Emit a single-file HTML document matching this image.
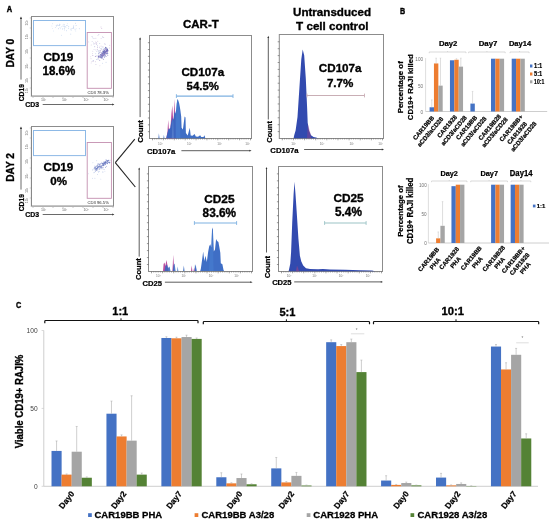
<!DOCTYPE html>
<html><head><meta charset="utf-8"><title>Figure</title>
<style>
html,body{margin:0;padding:0;background:#fff;}
body{width:550px;height:521px;overflow:hidden;}
svg{display:block;font-family:"Liberation Sans", sans-serif;filter:blur(0.3px);}
</style></head>
<body>
<svg width="550" height="521" viewBox="0 0 550 521">
<rect x="0" y="0" width="550" height="521" fill="#fff"/>
<text x="9.5" y="11.6" font-size="8.3" font-weight="bold" fill="#000" stroke="#000" stroke-width="0.45" text-anchor="middle" textLength="5.4" lengthAdjust="spacingAndGlyphs">A</text>
<rect x="31.50" y="16.50" width="82.00" height="79.50" fill="none" stroke="#8C8C8C" stroke-width="1.0"/>
<line x1="31.60" y1="18.00" x2="29.80" y2="18.00" stroke="#777" stroke-width="0.5"/>
<line x1="31.60" y1="20.00" x2="30.60" y2="20.00" stroke="#777" stroke-width="0.5"/>
<line x1="31.60" y1="22.00" x2="30.60" y2="22.00" stroke="#777" stroke-width="0.5"/>
<line x1="31.60" y1="24.00" x2="30.60" y2="24.00" stroke="#777" stroke-width="0.5"/>
<line x1="31.60" y1="26.00" x2="30.60" y2="26.00" stroke="#777" stroke-width="0.5"/>
<line x1="31.60" y1="28.00" x2="29.80" y2="28.00" stroke="#777" stroke-width="0.5"/>
<line x1="31.60" y1="30.00" x2="30.60" y2="30.00" stroke="#777" stroke-width="0.5"/>
<line x1="31.60" y1="32.00" x2="30.60" y2="32.00" stroke="#777" stroke-width="0.5"/>
<line x1="31.60" y1="34.00" x2="30.60" y2="34.00" stroke="#777" stroke-width="0.5"/>
<line x1="31.60" y1="36.00" x2="30.60" y2="36.00" stroke="#777" stroke-width="0.5"/>
<line x1="31.60" y1="38.00" x2="29.80" y2="38.00" stroke="#777" stroke-width="0.5"/>
<line x1="31.60" y1="40.00" x2="30.60" y2="40.00" stroke="#777" stroke-width="0.5"/>
<line x1="31.60" y1="42.00" x2="30.60" y2="42.00" stroke="#777" stroke-width="0.5"/>
<line x1="31.60" y1="44.00" x2="30.60" y2="44.00" stroke="#777" stroke-width="0.5"/>
<line x1="31.60" y1="46.00" x2="30.60" y2="46.00" stroke="#777" stroke-width="0.5"/>
<line x1="31.60" y1="48.00" x2="29.80" y2="48.00" stroke="#777" stroke-width="0.5"/>
<line x1="31.60" y1="50.00" x2="30.60" y2="50.00" stroke="#777" stroke-width="0.5"/>
<line x1="31.60" y1="52.00" x2="30.60" y2="52.00" stroke="#777" stroke-width="0.5"/>
<line x1="31.60" y1="54.00" x2="30.60" y2="54.00" stroke="#777" stroke-width="0.5"/>
<line x1="31.60" y1="56.00" x2="30.60" y2="56.00" stroke="#777" stroke-width="0.5"/>
<line x1="31.60" y1="58.00" x2="29.80" y2="58.00" stroke="#777" stroke-width="0.5"/>
<line x1="31.60" y1="60.00" x2="30.60" y2="60.00" stroke="#777" stroke-width="0.5"/>
<line x1="31.60" y1="62.00" x2="30.60" y2="62.00" stroke="#777" stroke-width="0.5"/>
<line x1="31.60" y1="64.00" x2="30.60" y2="64.00" stroke="#777" stroke-width="0.5"/>
<line x1="31.60" y1="66.00" x2="30.60" y2="66.00" stroke="#777" stroke-width="0.5"/>
<line x1="31.60" y1="68.00" x2="29.80" y2="68.00" stroke="#777" stroke-width="0.5"/>
<line x1="31.60" y1="70.00" x2="30.60" y2="70.00" stroke="#777" stroke-width="0.5"/>
<line x1="31.60" y1="72.00" x2="30.60" y2="72.00" stroke="#777" stroke-width="0.5"/>
<line x1="31.60" y1="74.00" x2="30.60" y2="74.00" stroke="#777" stroke-width="0.5"/>
<line x1="31.60" y1="76.00" x2="30.60" y2="76.00" stroke="#777" stroke-width="0.5"/>
<line x1="31.60" y1="78.00" x2="29.80" y2="78.00" stroke="#777" stroke-width="0.5"/>
<line x1="31.60" y1="80.00" x2="30.60" y2="80.00" stroke="#777" stroke-width="0.5"/>
<line x1="31.60" y1="82.00" x2="30.60" y2="82.00" stroke="#777" stroke-width="0.5"/>
<line x1="31.60" y1="84.00" x2="30.60" y2="84.00" stroke="#777" stroke-width="0.5"/>
<line x1="31.60" y1="86.00" x2="30.60" y2="86.00" stroke="#777" stroke-width="0.5"/>
<line x1="31.60" y1="88.00" x2="29.80" y2="88.00" stroke="#777" stroke-width="0.5"/>
<line x1="31.60" y1="90.00" x2="30.60" y2="90.00" stroke="#777" stroke-width="0.5"/>
<line x1="31.60" y1="92.00" x2="30.60" y2="92.00" stroke="#777" stroke-width="0.5"/>
<line x1="31.60" y1="94.00" x2="30.60" y2="94.00" stroke="#777" stroke-width="0.5"/>
<line x1="31.60" y1="96.00" x2="30.60" y2="96.00" stroke="#777" stroke-width="0.5"/>
<line x1="33.00" y1="96.00" x2="33.00" y2="97.80" stroke="#777" stroke-width="0.5"/>
<line x1="35.00" y1="96.00" x2="35.00" y2="97.00" stroke="#777" stroke-width="0.5"/>
<line x1="37.00" y1="96.00" x2="37.00" y2="97.00" stroke="#777" stroke-width="0.5"/>
<line x1="39.00" y1="96.00" x2="39.00" y2="97.00" stroke="#777" stroke-width="0.5"/>
<line x1="41.00" y1="96.00" x2="41.00" y2="97.00" stroke="#777" stroke-width="0.5"/>
<line x1="43.00" y1="96.00" x2="43.00" y2="97.80" stroke="#777" stroke-width="0.5"/>
<line x1="45.00" y1="96.00" x2="45.00" y2="97.00" stroke="#777" stroke-width="0.5"/>
<line x1="47.00" y1="96.00" x2="47.00" y2="97.00" stroke="#777" stroke-width="0.5"/>
<line x1="49.00" y1="96.00" x2="49.00" y2="97.00" stroke="#777" stroke-width="0.5"/>
<line x1="51.00" y1="96.00" x2="51.00" y2="97.00" stroke="#777" stroke-width="0.5"/>
<line x1="53.00" y1="96.00" x2="53.00" y2="97.80" stroke="#777" stroke-width="0.5"/>
<line x1="55.00" y1="96.00" x2="55.00" y2="97.00" stroke="#777" stroke-width="0.5"/>
<line x1="57.00" y1="96.00" x2="57.00" y2="97.00" stroke="#777" stroke-width="0.5"/>
<line x1="59.00" y1="96.00" x2="59.00" y2="97.00" stroke="#777" stroke-width="0.5"/>
<line x1="61.00" y1="96.00" x2="61.00" y2="97.00" stroke="#777" stroke-width="0.5"/>
<line x1="63.00" y1="96.00" x2="63.00" y2="97.80" stroke="#777" stroke-width="0.5"/>
<line x1="65.00" y1="96.00" x2="65.00" y2="97.00" stroke="#777" stroke-width="0.5"/>
<line x1="67.00" y1="96.00" x2="67.00" y2="97.00" stroke="#777" stroke-width="0.5"/>
<line x1="69.00" y1="96.00" x2="69.00" y2="97.00" stroke="#777" stroke-width="0.5"/>
<line x1="71.00" y1="96.00" x2="71.00" y2="97.00" stroke="#777" stroke-width="0.5"/>
<line x1="73.00" y1="96.00" x2="73.00" y2="97.80" stroke="#777" stroke-width="0.5"/>
<line x1="75.00" y1="96.00" x2="75.00" y2="97.00" stroke="#777" stroke-width="0.5"/>
<line x1="77.00" y1="96.00" x2="77.00" y2="97.00" stroke="#777" stroke-width="0.5"/>
<line x1="79.00" y1="96.00" x2="79.00" y2="97.00" stroke="#777" stroke-width="0.5"/>
<line x1="81.00" y1="96.00" x2="81.00" y2="97.00" stroke="#777" stroke-width="0.5"/>
<line x1="83.00" y1="96.00" x2="83.00" y2="97.80" stroke="#777" stroke-width="0.5"/>
<line x1="85.00" y1="96.00" x2="85.00" y2="97.00" stroke="#777" stroke-width="0.5"/>
<line x1="87.00" y1="96.00" x2="87.00" y2="97.00" stroke="#777" stroke-width="0.5"/>
<line x1="89.00" y1="96.00" x2="89.00" y2="97.00" stroke="#777" stroke-width="0.5"/>
<line x1="91.00" y1="96.00" x2="91.00" y2="97.00" stroke="#777" stroke-width="0.5"/>
<line x1="93.00" y1="96.00" x2="93.00" y2="97.80" stroke="#777" stroke-width="0.5"/>
<line x1="95.00" y1="96.00" x2="95.00" y2="97.00" stroke="#777" stroke-width="0.5"/>
<line x1="97.00" y1="96.00" x2="97.00" y2="97.00" stroke="#777" stroke-width="0.5"/>
<line x1="99.00" y1="96.00" x2="99.00" y2="97.00" stroke="#777" stroke-width="0.5"/>
<line x1="101.00" y1="96.00" x2="101.00" y2="97.00" stroke="#777" stroke-width="0.5"/>
<line x1="103.00" y1="96.00" x2="103.00" y2="97.80" stroke="#777" stroke-width="0.5"/>
<line x1="105.00" y1="96.00" x2="105.00" y2="97.00" stroke="#777" stroke-width="0.5"/>
<line x1="107.00" y1="96.00" x2="107.00" y2="97.00" stroke="#777" stroke-width="0.5"/>
<line x1="109.00" y1="96.00" x2="109.00" y2="97.00" stroke="#777" stroke-width="0.5"/>
<line x1="111.00" y1="96.00" x2="111.00" y2="97.00" stroke="#777" stroke-width="0.5"/>
<line x1="113.00" y1="96.00" x2="113.00" y2="97.80" stroke="#777" stroke-width="0.5"/>
<text x="43.5" y="100.8" font-size="3.6" fill="#666" text-anchor="middle">10&#178;</text>
<text x="64.6" y="100.8" font-size="3.6" fill="#666" text-anchor="middle">10&#178;</text>
<text x="86.0" y="100.8" font-size="3.6" fill="#666" text-anchor="middle">10&#178;</text>
<text x="106.0" y="100.8" font-size="3.6" fill="#666" text-anchor="middle">10&#178;</text>
<text transform="translate(27.8,23.0) rotate(-90)" font-size="3.6" fill="#666" text-anchor="middle">10&#178;</text>
<text transform="translate(27.8,36.6) rotate(-90)" font-size="3.6" fill="#666" text-anchor="middle">10&#178;</text>
<text transform="translate(27.8,51.5) rotate(-90)" font-size="3.6" fill="#666" text-anchor="middle">10&#178;</text>
<text transform="translate(27.8,66.2) rotate(-90)" font-size="3.6" fill="#666" text-anchor="middle">10&#178;</text>
<text transform="translate(27.8,80.5) rotate(-90)" font-size="3.6" fill="#666" text-anchor="middle">10&#178;</text>
<text transform="translate(27.8,90.6) rotate(-90)" font-size="3.6" fill="#666" text-anchor="middle">10&#178;</text>
<rect x="33.50" y="20.50" width="52.00" height="25.10" fill="none" stroke="#8DB9E6" stroke-width="1.0"/>
<rect x="87.20" y="32.50" width="24.20" height="55.80" fill="none" stroke="#C48FB0" stroke-width="0.9"/>
<text x="87.4" y="93.8" font-size="4.3" fill="#222" textLength="21.5" lengthAdjust="spacingAndGlyphs">CD3 78.3%</text>
<circle cx="64.21" cy="28.53" r="0.45" fill="#A9C3E8" fill-opacity="0.9"/>
<circle cx="73.79" cy="28.63" r="0.45" fill="#9DB8E2" fill-opacity="0.9"/>
<circle cx="52.68" cy="23.73" r="0.45" fill="#B8CDEB" fill-opacity="0.9"/>
<circle cx="73.26" cy="27.75" r="0.45" fill="#A9C3E8" fill-opacity="0.9"/>
<circle cx="66.52" cy="30.79" r="0.45" fill="#A9C3E8" fill-opacity="0.9"/>
<circle cx="67.67" cy="25.63" r="0.45" fill="#B8CDEB" fill-opacity="0.9"/>
<circle cx="59.69" cy="24.10" r="0.45" fill="#A9C3E8" fill-opacity="0.9"/>
<circle cx="59.77" cy="25.60" r="0.45" fill="#B8CDEB" fill-opacity="0.9"/>
<circle cx="79.25" cy="28.71" r="0.45" fill="#9DB8E2" fill-opacity="0.9"/>
<circle cx="58.37" cy="28.82" r="0.45" fill="#9DB8E2" fill-opacity="0.9"/>
<circle cx="56.15" cy="25.32" r="0.45" fill="#A9C3E8" fill-opacity="0.9"/>
<circle cx="57.29" cy="24.90" r="0.45" fill="#9DB8E2" fill-opacity="0.9"/>
<circle cx="75.04" cy="29.72" r="0.45" fill="#A9C3E8" fill-opacity="0.9"/>
<circle cx="59.99" cy="24.61" r="0.45" fill="#C4D6EF" fill-opacity="0.9"/>
<circle cx="67.33" cy="23.69" r="0.45" fill="#C4D6EF" fill-opacity="0.9"/>
<circle cx="62.59" cy="28.73" r="0.45" fill="#B8CDEB" fill-opacity="0.9"/>
<circle cx="64.35" cy="24.87" r="0.45" fill="#9DB8E2" fill-opacity="0.9"/>
<circle cx="51.90" cy="26.04" r="0.45" fill="#C4D6EF" fill-opacity="0.9"/>
<circle cx="61.37" cy="35.16" r="0.45" fill="#A9C3E8" fill-opacity="0.9"/>
<circle cx="61.81" cy="26.87" r="0.45" fill="#9DB8E2" fill-opacity="0.9"/>
<circle cx="70.69" cy="29.84" r="0.45" fill="#A9C3E8" fill-opacity="0.9"/>
<circle cx="68.73" cy="26.71" r="0.45" fill="#9DB8E2" fill-opacity="0.9"/>
<circle cx="62.51" cy="29.35" r="0.45" fill="#C4D6EF" fill-opacity="0.9"/>
<circle cx="59.23" cy="25.41" r="0.45" fill="#A9C3E8" fill-opacity="0.9"/>
<circle cx="73.46" cy="25.84" r="0.45" fill="#A9C3E8" fill-opacity="0.9"/>
<circle cx="76.10" cy="28.74" r="0.45" fill="#C4D6EF" fill-opacity="0.9"/>
<circle cx="64.51" cy="29.89" r="0.45" fill="#9DB8E2" fill-opacity="0.9"/>
<circle cx="73.71" cy="27.47" r="0.45" fill="#B8CDEB" fill-opacity="0.9"/>
<circle cx="59.74" cy="24.75" r="0.45" fill="#B8CDEB" fill-opacity="0.9"/>
<circle cx="66.42" cy="25.43" r="0.45" fill="#B8CDEB" fill-opacity="0.9"/>
<circle cx="53.49" cy="31.00" r="0.45" fill="#C4D6EF" fill-opacity="0.9"/>
<circle cx="72.69" cy="28.59" r="0.45" fill="#9DB8E2" fill-opacity="0.9"/>
<circle cx="75.63" cy="23.29" r="0.45" fill="#9DB8E2" fill-opacity="0.9"/>
<circle cx="63.19" cy="24.32" r="0.45" fill="#B8CDEB" fill-opacity="0.9"/>
<circle cx="68.54" cy="28.52" r="0.45" fill="#B8CDEB" fill-opacity="0.9"/>
<circle cx="65.41" cy="26.61" r="0.45" fill="#B8CDEB" fill-opacity="0.9"/>
<circle cx="65.95" cy="27.27" r="0.45" fill="#C4D6EF" fill-opacity="0.9"/>
<circle cx="56.62" cy="26.11" r="0.45" fill="#9DB8E2" fill-opacity="0.9"/>
<circle cx="76.26" cy="25.67" r="0.45" fill="#A9C3E8" fill-opacity="0.9"/>
<circle cx="52.36" cy="28.63" r="0.45" fill="#C4D6EF" fill-opacity="0.9"/>
<circle cx="60.38" cy="28.79" r="0.45" fill="#C4D6EF" fill-opacity="0.9"/>
<circle cx="64.33" cy="26.20" r="0.45" fill="#A9C3E8" fill-opacity="0.9"/>
<circle cx="73.51" cy="26.69" r="0.45" fill="#A9C3E8" fill-opacity="0.9"/>
<circle cx="64.77" cy="27.83" r="0.45" fill="#A9C3E8" fill-opacity="0.9"/>
<circle cx="58.07" cy="25.48" r="0.45" fill="#9DB8E2" fill-opacity="0.9"/>
<circle cx="63.98" cy="26.25" r="0.45" fill="#B8CDEB" fill-opacity="0.9"/>
<circle cx="63.01" cy="25.88" r="0.45" fill="#9DB8E2" fill-opacity="0.9"/>
<circle cx="75.14" cy="25.87" r="0.45" fill="#C4D6EF" fill-opacity="0.9"/>
<circle cx="75.75" cy="31.07" r="0.45" fill="#C4D6EF" fill-opacity="0.9"/>
<circle cx="59.99" cy="27.32" r="0.45" fill="#B8CDEB" fill-opacity="0.9"/>
<circle cx="71.14" cy="28.65" r="0.45" fill="#9DB8E2" fill-opacity="0.9"/>
<circle cx="55.35" cy="27.62" r="0.45" fill="#A9C3E8" fill-opacity="0.9"/>
<circle cx="70.79" cy="34.10" r="0.45" fill="#9DB8E2" fill-opacity="0.9"/>
<circle cx="71.30" cy="29.99" r="0.45" fill="#A9C3E8" fill-opacity="0.9"/>
<circle cx="105.01" cy="53.63" r="0.45" fill="#4F4FA8" fill-opacity="0.9"/>
<circle cx="104.98" cy="53.46" r="0.45" fill="#6A5AB0" fill-opacity="0.9"/>
<circle cx="102.62" cy="56.62" r="0.45" fill="#7A70C0" fill-opacity="0.9"/>
<circle cx="102.54" cy="57.74" r="0.45" fill="#6A5AB0" fill-opacity="0.9"/>
<circle cx="106.84" cy="48.66" r="0.45" fill="#6A5AB0" fill-opacity="0.9"/>
<circle cx="98.99" cy="56.02" r="0.45" fill="#4F4FA8" fill-opacity="0.9"/>
<circle cx="104.98" cy="51.36" r="0.45" fill="#7A70C0" fill-opacity="0.9"/>
<circle cx="104.26" cy="51.07" r="0.45" fill="#8060B0" fill-opacity="0.9"/>
<circle cx="106.53" cy="50.71" r="0.45" fill="#6A5AB0" fill-opacity="0.9"/>
<circle cx="102.48" cy="55.30" r="0.45" fill="#7A70C0" fill-opacity="0.9"/>
<circle cx="104.35" cy="51.08" r="0.45" fill="#5A6CC0" fill-opacity="0.9"/>
<circle cx="98.66" cy="53.85" r="0.45" fill="#5A6CC0" fill-opacity="0.9"/>
<circle cx="104.69" cy="51.64" r="0.45" fill="#5A6CC0" fill-opacity="0.9"/>
<circle cx="103.25" cy="50.78" r="0.45" fill="#3E4FA8" fill-opacity="0.9"/>
<circle cx="103.18" cy="53.12" r="0.45" fill="#6A5AB0" fill-opacity="0.9"/>
<circle cx="101.38" cy="56.80" r="0.45" fill="#3E4FA8" fill-opacity="0.9"/>
<circle cx="107.43" cy="53.43" r="0.45" fill="#3E4FA8" fill-opacity="0.9"/>
<circle cx="103.79" cy="53.87" r="0.45" fill="#6A5AB0" fill-opacity="0.9"/>
<circle cx="100.31" cy="54.88" r="0.45" fill="#4F4FA8" fill-opacity="0.9"/>
<circle cx="104.98" cy="52.60" r="0.45" fill="#6A5AB0" fill-opacity="0.9"/>
<circle cx="106.35" cy="52.07" r="0.45" fill="#8060B0" fill-opacity="0.9"/>
<circle cx="103.61" cy="52.07" r="0.45" fill="#7A70C0" fill-opacity="0.9"/>
<circle cx="104.79" cy="56.72" r="0.45" fill="#8060B0" fill-opacity="0.9"/>
<circle cx="105.43" cy="47.81" r="0.45" fill="#7A70C0" fill-opacity="0.9"/>
<circle cx="104.20" cy="53.20" r="0.45" fill="#7A70C0" fill-opacity="0.9"/>
<circle cx="98.08" cy="56.07" r="0.45" fill="#6A5AB0" fill-opacity="0.9"/>
<circle cx="104.49" cy="51.73" r="0.45" fill="#6A5AB0" fill-opacity="0.9"/>
<circle cx="103.03" cy="51.70" r="0.45" fill="#8060B0" fill-opacity="0.9"/>
<circle cx="103.49" cy="51.69" r="0.45" fill="#4F4FA8" fill-opacity="0.9"/>
<circle cx="107.36" cy="50.80" r="0.45" fill="#4F4FA8" fill-opacity="0.9"/>
<circle cx="104.01" cy="51.22" r="0.45" fill="#4F4FA8" fill-opacity="0.9"/>
<circle cx="101.87" cy="52.72" r="0.45" fill="#7A70C0" fill-opacity="0.9"/>
<circle cx="100.83" cy="57.78" r="0.45" fill="#3E4FA8" fill-opacity="0.9"/>
<circle cx="103.59" cy="55.39" r="0.45" fill="#8060B0" fill-opacity="0.9"/>
<circle cx="107.57" cy="49.45" r="0.45" fill="#3E4FA8" fill-opacity="0.9"/>
<circle cx="101.61" cy="57.60" r="0.45" fill="#4F4FA8" fill-opacity="0.9"/>
<circle cx="104.06" cy="52.61" r="0.45" fill="#8060B0" fill-opacity="0.9"/>
<circle cx="106.37" cy="50.67" r="0.45" fill="#5A6CC0" fill-opacity="0.9"/>
<circle cx="103.99" cy="53.26" r="0.45" fill="#6A5AB0" fill-opacity="0.9"/>
<circle cx="107.85" cy="53.64" r="0.45" fill="#3E4FA8" fill-opacity="0.9"/>
<circle cx="107.58" cy="52.45" r="0.45" fill="#6A5AB0" fill-opacity="0.9"/>
<circle cx="99.37" cy="57.01" r="0.45" fill="#8060B0" fill-opacity="0.9"/>
<circle cx="102.52" cy="54.68" r="0.45" fill="#8060B0" fill-opacity="0.9"/>
<circle cx="98.33" cy="56.77" r="0.45" fill="#4F4FA8" fill-opacity="0.9"/>
<circle cx="101.49" cy="54.28" r="0.45" fill="#4F4FA8" fill-opacity="0.9"/>
<circle cx="101.22" cy="56.03" r="0.45" fill="#4F4FA8" fill-opacity="0.9"/>
<circle cx="99.78" cy="60.27" r="0.45" fill="#6A5AB0" fill-opacity="0.9"/>
<circle cx="102.60" cy="56.55" r="0.45" fill="#5A6CC0" fill-opacity="0.9"/>
<circle cx="106.01" cy="51.86" r="0.45" fill="#7A70C0" fill-opacity="0.9"/>
<circle cx="103.89" cy="52.28" r="0.45" fill="#4F4FA8" fill-opacity="0.9"/>
<circle cx="107.02" cy="54.21" r="0.45" fill="#8060B0" fill-opacity="0.9"/>
<circle cx="105.45" cy="47.84" r="0.45" fill="#4F4FA8" fill-opacity="0.9"/>
<circle cx="104.54" cy="53.87" r="0.45" fill="#4F4FA8" fill-opacity="0.9"/>
<circle cx="102.25" cy="55.59" r="0.45" fill="#8060B0" fill-opacity="0.9"/>
<circle cx="106.44" cy="53.20" r="0.45" fill="#4F4FA8" fill-opacity="0.9"/>
<circle cx="107.19" cy="50.76" r="0.45" fill="#8060B0" fill-opacity="0.9"/>
<circle cx="103.66" cy="52.26" r="0.45" fill="#3E4FA8" fill-opacity="0.9"/>
<circle cx="104.03" cy="54.83" r="0.45" fill="#4F4FA8" fill-opacity="0.9"/>
<circle cx="107.70" cy="49.62" r="0.45" fill="#7A70C0" fill-opacity="0.9"/>
<circle cx="104.46" cy="54.78" r="0.45" fill="#3E4FA8" fill-opacity="0.9"/>
<circle cx="100.93" cy="55.10" r="0.45" fill="#3E4FA8" fill-opacity="0.9"/>
<circle cx="106.51" cy="50.40" r="0.45" fill="#8060B0" fill-opacity="0.9"/>
<circle cx="106.19" cy="51.84" r="0.45" fill="#5A6CC0" fill-opacity="0.9"/>
<circle cx="107.84" cy="55.38" r="0.45" fill="#4F4FA8" fill-opacity="0.9"/>
<circle cx="108.01" cy="51.00" r="0.45" fill="#8060B0" fill-opacity="0.9"/>
<circle cx="104.75" cy="54.86" r="0.45" fill="#3E4FA8" fill-opacity="0.9"/>
<circle cx="105.96" cy="49.39" r="0.45" fill="#6A5AB0" fill-opacity="0.9"/>
<circle cx="105.84" cy="52.25" r="0.45" fill="#8060B0" fill-opacity="0.9"/>
<circle cx="102.79" cy="58.01" r="0.45" fill="#7A70C0" fill-opacity="0.9"/>
<circle cx="104.72" cy="55.62" r="0.45" fill="#6A5AB0" fill-opacity="0.9"/>
<circle cx="103.63" cy="54.66" r="0.45" fill="#3E4FA8" fill-opacity="0.9"/>
<circle cx="101.18" cy="54.26" r="0.45" fill="#4F4FA8" fill-opacity="0.9"/>
<circle cx="100.52" cy="55.96" r="0.45" fill="#7A70C0" fill-opacity="0.9"/>
<circle cx="100.93" cy="57.36" r="0.45" fill="#6A5AB0" fill-opacity="0.9"/>
<circle cx="102.63" cy="56.00" r="0.45" fill="#6A5AB0" fill-opacity="0.9"/>
<circle cx="104.19" cy="49.03" r="0.45" fill="#3E4FA8" fill-opacity="0.9"/>
<circle cx="105.34" cy="49.55" r="0.45" fill="#8060B0" fill-opacity="0.9"/>
<circle cx="105.05" cy="51.33" r="0.45" fill="#5A6CC0" fill-opacity="0.9"/>
<circle cx="105.16" cy="48.50" r="0.45" fill="#7A70C0" fill-opacity="0.9"/>
<circle cx="99.09" cy="56.10" r="0.45" fill="#4F4FA8" fill-opacity="0.9"/>
<circle cx="103.74" cy="49.18" r="0.45" fill="#5A6CC0" fill-opacity="0.9"/>
<circle cx="106.81" cy="49.32" r="0.45" fill="#4F4FA8" fill-opacity="0.9"/>
<circle cx="100.17" cy="57.01" r="0.45" fill="#3E4FA8" fill-opacity="0.9"/>
<circle cx="102.70" cy="51.42" r="0.45" fill="#5A6CC0" fill-opacity="0.9"/>
<circle cx="101.33" cy="57.30" r="0.45" fill="#4F4FA8" fill-opacity="0.9"/>
<circle cx="103.88" cy="51.48" r="0.45" fill="#5A6CC0" fill-opacity="0.9"/>
<circle cx="103.67" cy="51.48" r="0.45" fill="#4F4FA8" fill-opacity="0.9"/>
<circle cx="106.48" cy="53.41" r="0.45" fill="#6A5AB0" fill-opacity="0.9"/>
<circle cx="106.92" cy="51.30" r="0.45" fill="#3E4FA8" fill-opacity="0.9"/>
<circle cx="101.02" cy="56.18" r="0.45" fill="#4F4FA8" fill-opacity="0.9"/>
<circle cx="104.11" cy="52.06" r="0.45" fill="#6A5AB0" fill-opacity="0.9"/>
<circle cx="101.00" cy="52.84" r="0.45" fill="#7A70C0" fill-opacity="0.9"/>
<circle cx="104.50" cy="53.00" r="0.45" fill="#8060B0" fill-opacity="0.9"/>
<circle cx="108.02" cy="50.38" r="0.45" fill="#3E4FA8" fill-opacity="0.9"/>
<circle cx="100.38" cy="54.99" r="0.45" fill="#3E4FA8" fill-opacity="0.9"/>
<circle cx="107.28" cy="51.28" r="0.45" fill="#8060B0" fill-opacity="0.9"/>
<circle cx="107.55" cy="49.56" r="0.45" fill="#3E4FA8" fill-opacity="0.9"/>
<circle cx="95.91" cy="56.67" r="0.45" fill="#8060B0" fill-opacity="0.9"/>
<circle cx="105.19" cy="52.56" r="0.45" fill="#4F4FA8" fill-opacity="0.9"/>
<circle cx="105.15" cy="54.36" r="0.45" fill="#8060B0" fill-opacity="0.9"/>
<circle cx="101.22" cy="54.71" r="0.45" fill="#4F4FA8" fill-opacity="0.9"/>
<circle cx="105.45" cy="55.27" r="0.45" fill="#3E4FA8" fill-opacity="0.9"/>
<circle cx="104.37" cy="57.64" r="0.45" fill="#5A6CC0" fill-opacity="0.9"/>
<circle cx="102.88" cy="54.73" r="0.45" fill="#8060B0" fill-opacity="0.9"/>
<circle cx="103.35" cy="55.48" r="0.45" fill="#8060B0" fill-opacity="0.9"/>
<circle cx="105.86" cy="50.81" r="0.45" fill="#6A5AB0" fill-opacity="0.9"/>
<circle cx="106.08" cy="51.03" r="0.45" fill="#8060B0" fill-opacity="0.9"/>
<circle cx="97.99" cy="59.04" r="0.45" fill="#4F4FA8" fill-opacity="0.9"/>
<circle cx="101.45" cy="55.18" r="0.45" fill="#4F4FA8" fill-opacity="0.9"/>
<circle cx="103.56" cy="56.01" r="0.45" fill="#5A6CC0" fill-opacity="0.9"/>
<circle cx="106.99" cy="51.27" r="0.45" fill="#7A70C0" fill-opacity="0.9"/>
<circle cx="102.36" cy="52.20" r="0.45" fill="#3E4FA8" fill-opacity="0.9"/>
<circle cx="107.27" cy="48.34" r="0.45" fill="#7A70C0" fill-opacity="0.9"/>
<circle cx="103.82" cy="52.61" r="0.45" fill="#5A6CC0" fill-opacity="0.9"/>
<circle cx="102.25" cy="53.64" r="0.45" fill="#8060B0" fill-opacity="0.9"/>
<circle cx="104.78" cy="52.55" r="0.45" fill="#6A5AB0" fill-opacity="0.9"/>
<circle cx="102.67" cy="54.84" r="0.45" fill="#5A6CC0" fill-opacity="0.9"/>
<circle cx="104.65" cy="50.25" r="0.45" fill="#6A5AB0" fill-opacity="0.9"/>
<circle cx="100.69" cy="54.53" r="0.45" fill="#6A5AB0" fill-opacity="0.9"/>
<circle cx="106.01" cy="53.21" r="0.45" fill="#3E4FA8" fill-opacity="0.9"/>
<circle cx="102.78" cy="53.52" r="0.45" fill="#3E4FA8" fill-opacity="0.9"/>
<circle cx="101.99" cy="53.73" r="0.45" fill="#6A5AB0" fill-opacity="0.9"/>
<circle cx="103.04" cy="55.41" r="0.45" fill="#8060B0" fill-opacity="0.9"/>
<circle cx="106.05" cy="51.33" r="0.45" fill="#3E4FA8" fill-opacity="0.9"/>
<circle cx="102.54" cy="53.34" r="0.45" fill="#8060B0" fill-opacity="0.9"/>
<circle cx="103.18" cy="55.28" r="0.45" fill="#8060B0" fill-opacity="0.9"/>
<circle cx="98.68" cy="56.44" r="0.45" fill="#6A5AB0" fill-opacity="0.9"/>
<circle cx="101.26" cy="55.81" r="0.45" fill="#5A6CC0" fill-opacity="0.9"/>
<circle cx="105.49" cy="53.05" r="0.45" fill="#4F4FA8" fill-opacity="0.9"/>
<circle cx="98.55" cy="57.71" r="0.45" fill="#3E4FA8" fill-opacity="0.9"/>
<circle cx="106.74" cy="49.79" r="0.45" fill="#7A70C0" fill-opacity="0.9"/>
<circle cx="107.31" cy="50.45" r="0.45" fill="#4F4FA8" fill-opacity="0.9"/>
<circle cx="103.30" cy="59.20" r="0.45" fill="#4F4FA8" fill-opacity="0.9"/>
<circle cx="106.70" cy="47.69" r="0.45" fill="#3E4FA8" fill-opacity="0.9"/>
<circle cx="100.19" cy="56.74" r="0.45" fill="#6A5AB0" fill-opacity="0.9"/>
<circle cx="103.00" cy="54.53" r="0.45" fill="#8060B0" fill-opacity="0.9"/>
<circle cx="106.08" cy="48.40" r="0.45" fill="#3E4FA8" fill-opacity="0.9"/>
<circle cx="105.47" cy="52.31" r="0.45" fill="#7A70C0" fill-opacity="0.9"/>
<circle cx="107.41" cy="51.11" r="0.45" fill="#7A70C0" fill-opacity="0.9"/>
<circle cx="95.27" cy="56.24" r="0.45" fill="#8060B0" fill-opacity="0.9"/>
<circle cx="105.51" cy="47.21" r="0.45" fill="#3E4FA8" fill-opacity="0.9"/>
<circle cx="103.41" cy="53.18" r="0.45" fill="#3E4FA8" fill-opacity="0.9"/>
<circle cx="105.04" cy="52.18" r="0.45" fill="#3E4FA8" fill-opacity="0.9"/>
<circle cx="106.26" cy="49.90" r="0.45" fill="#6A5AB0" fill-opacity="0.9"/>
<circle cx="105.67" cy="51.64" r="0.45" fill="#4F4FA8" fill-opacity="0.9"/>
<circle cx="104.82" cy="50.45" r="0.45" fill="#3E4FA8" fill-opacity="0.9"/>
<circle cx="101.71" cy="53.41" r="0.45" fill="#7A70C0" fill-opacity="0.9"/>
<circle cx="99.17" cy="56.99" r="0.45" fill="#6A5AB0" fill-opacity="0.9"/>
<circle cx="101.74" cy="58.32" r="0.45" fill="#8060B0" fill-opacity="0.9"/>
<circle cx="99.10" cy="55.09" r="0.45" fill="#6A5AB0" fill-opacity="0.9"/>
<circle cx="105.30" cy="53.73" r="0.45" fill="#C0A8CC" fill-opacity="0.85"/>
<circle cx="100.03" cy="50.59" r="0.45" fill="#A0B8E0" fill-opacity="0.85"/>
<circle cx="100.02" cy="52.03" r="0.45" fill="#A8A0D0" fill-opacity="0.85"/>
<circle cx="101.20" cy="58.00" r="0.45" fill="#9AB0DC" fill-opacity="0.85"/>
<circle cx="103.06" cy="47.02" r="0.45" fill="#B8A8D8" fill-opacity="0.85"/>
<circle cx="95.49" cy="42.02" r="0.45" fill="#C0A8CC" fill-opacity="0.85"/>
<circle cx="106.24" cy="52.35" r="0.45" fill="#C0A8CC" fill-opacity="0.85"/>
<circle cx="96.75" cy="51.36" r="0.45" fill="#A8A0D0" fill-opacity="0.85"/>
<circle cx="98.13" cy="57.31" r="0.45" fill="#A8A0D0" fill-opacity="0.85"/>
<circle cx="91.18" cy="44.94" r="0.45" fill="#C0A8CC" fill-opacity="0.85"/>
<circle cx="93.24" cy="61.64" r="0.45" fill="#C0A8CC" fill-opacity="0.85"/>
<circle cx="105.66" cy="56.55" r="0.45" fill="#B8A8D8" fill-opacity="0.85"/>
<circle cx="91.18" cy="62.88" r="0.45" fill="#B8A8D8" fill-opacity="0.85"/>
<circle cx="95.37" cy="61.72" r="0.45" fill="#C0A8CC" fill-opacity="0.85"/>
<circle cx="104.05" cy="51.56" r="0.45" fill="#C0A8CC" fill-opacity="0.85"/>
<circle cx="100.29" cy="50.54" r="0.45" fill="#A8A0D0" fill-opacity="0.85"/>
<circle cx="99.59" cy="47.30" r="0.45" fill="#B8A8D8" fill-opacity="0.85"/>
<circle cx="96.88" cy="55.41" r="0.45" fill="#A0B8E0" fill-opacity="0.85"/>
<circle cx="106.97" cy="53.58" r="0.45" fill="#9AB0DC" fill-opacity="0.85"/>
<circle cx="102.73" cy="46.92" r="0.45" fill="#A0B8E0" fill-opacity="0.85"/>
<circle cx="105.13" cy="44.32" r="0.45" fill="#A8A0D0" fill-opacity="0.85"/>
<circle cx="102.61" cy="50.89" r="0.45" fill="#C0A8CC" fill-opacity="0.85"/>
<circle cx="97.80" cy="41.25" r="0.45" fill="#C0A8CC" fill-opacity="0.85"/>
<circle cx="100.06" cy="46.08" r="0.45" fill="#C0A8CC" fill-opacity="0.85"/>
<circle cx="102.68" cy="63.15" r="0.45" fill="#9AB0DC" fill-opacity="0.85"/>
<circle cx="102.80" cy="37.64" r="0.45" fill="#A0B8E0" fill-opacity="0.85"/>
<circle cx="99.86" cy="65.84" r="0.45" fill="#C0A8CC" fill-opacity="0.85"/>
<circle cx="93.36" cy="60.66" r="0.45" fill="#A8A0D0" fill-opacity="0.85"/>
<circle cx="94.03" cy="49.40" r="0.45" fill="#B8A8D8" fill-opacity="0.85"/>
<circle cx="99.03" cy="52.93" r="0.45" fill="#A8A0D0" fill-opacity="0.85"/>
<circle cx="92.77" cy="51.15" r="0.45" fill="#B8A8D8" fill-opacity="0.85"/>
<circle cx="109.29" cy="47.95" r="0.45" fill="#A8A0D0" fill-opacity="0.85"/>
<circle cx="98.80" cy="53.34" r="0.45" fill="#A8A0D0" fill-opacity="0.85"/>
<circle cx="102.04" cy="49.14" r="0.45" fill="#B8A8D8" fill-opacity="0.85"/>
<circle cx="92.97" cy="55.56" r="0.45" fill="#B8A8D8" fill-opacity="0.85"/>
<circle cx="98.88" cy="34.50" r="0.45" fill="#A8A0D0" fill-opacity="0.85"/>
<circle cx="99.78" cy="43.44" r="0.45" fill="#9AB0DC" fill-opacity="0.85"/>
<circle cx="94.59" cy="46.85" r="0.45" fill="#9AB0DC" fill-opacity="0.85"/>
<circle cx="100.18" cy="55.73" r="0.45" fill="#B8A8D8" fill-opacity="0.85"/>
<circle cx="99.37" cy="56.48" r="0.45" fill="#A0B8E0" fill-opacity="0.85"/>
<circle cx="99.69" cy="52.71" r="0.45" fill="#9AB0DC" fill-opacity="0.85"/>
<circle cx="104.94" cy="49.55" r="0.45" fill="#B8A8D8" fill-opacity="0.85"/>
<circle cx="97.64" cy="47.03" r="0.45" fill="#C0A8CC" fill-opacity="0.85"/>
<circle cx="101.32" cy="49.79" r="0.45" fill="#C0A8CC" fill-opacity="0.85"/>
<circle cx="101.69" cy="46.11" r="0.45" fill="#C0A8CC" fill-opacity="0.85"/>
<circle cx="100.23" cy="48.82" r="0.45" fill="#9AB0DC" fill-opacity="0.85"/>
<circle cx="99.17" cy="52.56" r="0.45" fill="#A0B8E0" fill-opacity="0.85"/>
<circle cx="105.52" cy="48.21" r="0.45" fill="#A8A0D0" fill-opacity="0.85"/>
<circle cx="92.03" cy="61.54" r="0.45" fill="#C0A8CC" fill-opacity="0.85"/>
<circle cx="92.11" cy="41.67" r="0.45" fill="#A8A0D0" fill-opacity="0.85"/>
<circle cx="104.30" cy="56.64" r="0.45" fill="#A0B8E0" fill-opacity="0.85"/>
<circle cx="98.19" cy="51.79" r="0.45" fill="#9AB0DC" fill-opacity="0.85"/>
<circle cx="101.13" cy="54.19" r="0.45" fill="#9AB0DC" fill-opacity="0.85"/>
<circle cx="106.88" cy="53.09" r="0.45" fill="#B8A8D8" fill-opacity="0.85"/>
<circle cx="102.66" cy="36.42" r="0.45" fill="#C0A8CC" fill-opacity="0.85"/>
<circle cx="97.61" cy="45.39" r="0.45" fill="#9AB0DC" fill-opacity="0.85"/>
<circle cx="100.12" cy="50.95" r="0.45" fill="#C0A8CC" fill-opacity="0.85"/>
<circle cx="97.27" cy="49.14" r="0.45" fill="#A8A0D0" fill-opacity="0.85"/>
<circle cx="101.10" cy="38.67" r="0.45" fill="#B8A8D8" fill-opacity="0.85"/>
<circle cx="97.60" cy="47.32" r="0.45" fill="#B8A8D8" fill-opacity="0.85"/>
<circle cx="95.82" cy="53.81" r="0.45" fill="#9AB0DC" fill-opacity="0.85"/>
<circle cx="96.43" cy="42.76" r="0.45" fill="#A8A0D0" fill-opacity="0.85"/>
<circle cx="96.53" cy="59.56" r="0.45" fill="#9AB0DC" fill-opacity="0.85"/>
<circle cx="98.18" cy="50.79" r="0.45" fill="#9AB0DC" fill-opacity="0.85"/>
<circle cx="95.94" cy="43.72" r="0.45" fill="#C0A8CC" fill-opacity="0.85"/>
<circle cx="99.16" cy="50.83" r="0.45" fill="#B8A8D8" fill-opacity="0.85"/>
<circle cx="90.78" cy="56.83" r="0.45" fill="#C0A8CC" fill-opacity="0.85"/>
<circle cx="94.79" cy="46.42" r="0.45" fill="#B8A8D8" fill-opacity="0.85"/>
<circle cx="100.12" cy="51.90" r="0.45" fill="#B8A8D8" fill-opacity="0.85"/>
<circle cx="92.04" cy="36.43" r="0.45" fill="#A8A0D0" fill-opacity="0.85"/>
<circle cx="88.73" cy="41.91" r="0.45" fill="#A0B8E0" fill-opacity="0.85"/>
<circle cx="101.18" cy="56.52" r="0.45" fill="#B8A8D8" fill-opacity="0.85"/>
<circle cx="103.50" cy="55.87" r="0.45" fill="#B8A8D8" fill-opacity="0.85"/>
<circle cx="95.96" cy="64.45" r="0.45" fill="#A8A0D0" fill-opacity="0.85"/>
<circle cx="104.67" cy="48.59" r="0.45" fill="#A8A0D0" fill-opacity="0.85"/>
<circle cx="93.45" cy="42.88" r="0.45" fill="#A8A0D0" fill-opacity="0.85"/>
<circle cx="104.74" cy="43.70" r="0.45" fill="#B8A8D8" fill-opacity="0.85"/>
<circle cx="92.73" cy="37.83" r="0.45" fill="#A0B8E0" fill-opacity="0.85"/>
<circle cx="91.01" cy="58.74" r="0.45" fill="#C0A8CC" fill-opacity="0.85"/>
<circle cx="100.43" cy="55.12" r="0.45" fill="#C0A8CC" fill-opacity="0.85"/>
<circle cx="101.70" cy="48.24" r="0.45" fill="#9AB0DC" fill-opacity="0.85"/>
<circle cx="101.70" cy="54.21" r="0.45" fill="#B8A8D8" fill-opacity="0.85"/>
<circle cx="105.21" cy="52.63" r="0.45" fill="#A8A0D0" fill-opacity="0.85"/>
<circle cx="96.82" cy="43.84" r="0.45" fill="#C0A8CC" fill-opacity="0.85"/>
<circle cx="93.88" cy="44.08" r="0.45" fill="#9AB0DC" fill-opacity="0.85"/>
<circle cx="96.46" cy="44.47" r="0.45" fill="#B8A8D8" fill-opacity="0.85"/>
<circle cx="92.45" cy="55.28" r="0.45" fill="#C0A8CC" fill-opacity="0.85"/>
<circle cx="95.86" cy="49.89" r="0.45" fill="#A8A0D0" fill-opacity="0.85"/>
<circle cx="94.75" cy="43.70" r="0.45" fill="#B8A8D8" fill-opacity="0.85"/>
<circle cx="92.44" cy="53.64" r="0.45" fill="#C0A8CC" fill-opacity="0.85"/>
<circle cx="103.72" cy="37.51" r="0.45" fill="#C0A8CC" fill-opacity="0.85"/>
<circle cx="101.05" cy="52.61" r="0.45" fill="#C0A8CC" fill-opacity="0.85"/>
<circle cx="93.03" cy="60.78" r="0.45" fill="#A0B8E0" fill-opacity="0.85"/>
<circle cx="97.56" cy="49.85" r="0.45" fill="#B8A8D8" fill-opacity="0.85"/>
<circle cx="106.07" cy="56.43" r="0.45" fill="#A0B8E0" fill-opacity="0.85"/>
<circle cx="106.32" cy="56.43" r="0.45" fill="#C0A8CC" fill-opacity="0.85"/>
<circle cx="93.98" cy="38.52" r="0.45" fill="#A8A0D0" fill-opacity="0.85"/>
<circle cx="97.97" cy="35.40" r="0.45" fill="#B8A8D8" fill-opacity="0.85"/>
<circle cx="106.05" cy="62.26" r="0.45" fill="#9AB0DC" fill-opacity="0.85"/>
<circle cx="109.72" cy="45.21" r="0.45" fill="#B8A8D8" fill-opacity="0.85"/>
<circle cx="95.88" cy="38.23" r="0.45" fill="#B8A8D8" fill-opacity="0.85"/>
<circle cx="103.26" cy="52.98" r="0.45" fill="#9AB0DC" fill-opacity="0.85"/>
<circle cx="101.00" cy="27.00" r="0.45" fill="#B090C0" fill-opacity="0.8"/>
<circle cx="101.80" cy="28.50" r="0.45" fill="#B090C0" fill-opacity="0.8"/>
<text x="58.40" y="60.90" font-size="11.59" font-weight="bold" fill="#000" stroke="#000" stroke-width="0.35" text-anchor="middle" textLength="30.01" lengthAdjust="spacingAndGlyphs">CD19</text>
<text x="58.90" y="75.30" font-size="12.15" font-weight="bold" fill="#000" stroke="#000" stroke-width="0.36" text-anchor="middle" textLength="32.85" lengthAdjust="spacingAndGlyphs">18.6%</text>
<text transform="translate(13.80,53.15) rotate(-90)" x="0" y="0" font-size="10.89" font-weight="bold" fill="#000" stroke="#000" stroke-width="0.33" text-anchor="middle" textLength="28.86" lengthAdjust="spacingAndGlyphs">DAY 0</text>
<line x1="21.00" y1="17.60" x2="21.00" y2="79.60" stroke="#444" stroke-width="0.8"/>
<path d="M19.9,19.0 L21,16.6 L22.1,19.0Z" fill="#333"/>
<text transform="translate(24.20,92.65) rotate(-90)" x="0" y="0" font-size="7.54" font-weight="bold" fill="#000" stroke="#000" stroke-width="0.23" text-anchor="middle" textLength="17.23" lengthAdjust="spacingAndGlyphs">CD19</text>
<text x="32.20" y="106.70" font-size="6.56" font-weight="bold" fill="#000" stroke="#000" stroke-width="0.20" text-anchor="middle" textLength="13.86" lengthAdjust="spacingAndGlyphs">CD3</text>
<line x1="42.70" y1="104.50" x2="112.80" y2="104.50" stroke="#444" stroke-width="0.8"/>
<path d="M112.2,103.4 L114.4,104.5 L112.2,105.6Z" fill="#333"/>
<rect x="31.50" y="126.50" width="82.00" height="79.50" fill="none" stroke="#8C8C8C" stroke-width="1.0"/>
<line x1="31.60" y1="128.00" x2="29.80" y2="128.00" stroke="#777" stroke-width="0.5"/>
<line x1="31.60" y1="130.00" x2="30.60" y2="130.00" stroke="#777" stroke-width="0.5"/>
<line x1="31.60" y1="132.00" x2="30.60" y2="132.00" stroke="#777" stroke-width="0.5"/>
<line x1="31.60" y1="134.00" x2="30.60" y2="134.00" stroke="#777" stroke-width="0.5"/>
<line x1="31.60" y1="136.00" x2="30.60" y2="136.00" stroke="#777" stroke-width="0.5"/>
<line x1="31.60" y1="138.00" x2="29.80" y2="138.00" stroke="#777" stroke-width="0.5"/>
<line x1="31.60" y1="140.00" x2="30.60" y2="140.00" stroke="#777" stroke-width="0.5"/>
<line x1="31.60" y1="142.00" x2="30.60" y2="142.00" stroke="#777" stroke-width="0.5"/>
<line x1="31.60" y1="144.00" x2="30.60" y2="144.00" stroke="#777" stroke-width="0.5"/>
<line x1="31.60" y1="146.00" x2="30.60" y2="146.00" stroke="#777" stroke-width="0.5"/>
<line x1="31.60" y1="148.00" x2="29.80" y2="148.00" stroke="#777" stroke-width="0.5"/>
<line x1="31.60" y1="150.00" x2="30.60" y2="150.00" stroke="#777" stroke-width="0.5"/>
<line x1="31.60" y1="152.00" x2="30.60" y2="152.00" stroke="#777" stroke-width="0.5"/>
<line x1="31.60" y1="154.00" x2="30.60" y2="154.00" stroke="#777" stroke-width="0.5"/>
<line x1="31.60" y1="156.00" x2="30.60" y2="156.00" stroke="#777" stroke-width="0.5"/>
<line x1="31.60" y1="158.00" x2="29.80" y2="158.00" stroke="#777" stroke-width="0.5"/>
<line x1="31.60" y1="160.00" x2="30.60" y2="160.00" stroke="#777" stroke-width="0.5"/>
<line x1="31.60" y1="162.00" x2="30.60" y2="162.00" stroke="#777" stroke-width="0.5"/>
<line x1="31.60" y1="164.00" x2="30.60" y2="164.00" stroke="#777" stroke-width="0.5"/>
<line x1="31.60" y1="166.00" x2="30.60" y2="166.00" stroke="#777" stroke-width="0.5"/>
<line x1="31.60" y1="168.00" x2="29.80" y2="168.00" stroke="#777" stroke-width="0.5"/>
<line x1="31.60" y1="170.00" x2="30.60" y2="170.00" stroke="#777" stroke-width="0.5"/>
<line x1="31.60" y1="172.00" x2="30.60" y2="172.00" stroke="#777" stroke-width="0.5"/>
<line x1="31.60" y1="174.00" x2="30.60" y2="174.00" stroke="#777" stroke-width="0.5"/>
<line x1="31.60" y1="176.00" x2="30.60" y2="176.00" stroke="#777" stroke-width="0.5"/>
<line x1="31.60" y1="178.00" x2="29.80" y2="178.00" stroke="#777" stroke-width="0.5"/>
<line x1="31.60" y1="180.00" x2="30.60" y2="180.00" stroke="#777" stroke-width="0.5"/>
<line x1="31.60" y1="182.00" x2="30.60" y2="182.00" stroke="#777" stroke-width="0.5"/>
<line x1="31.60" y1="184.00" x2="30.60" y2="184.00" stroke="#777" stroke-width="0.5"/>
<line x1="31.60" y1="186.00" x2="30.60" y2="186.00" stroke="#777" stroke-width="0.5"/>
<line x1="31.60" y1="188.00" x2="29.80" y2="188.00" stroke="#777" stroke-width="0.5"/>
<line x1="31.60" y1="190.00" x2="30.60" y2="190.00" stroke="#777" stroke-width="0.5"/>
<line x1="31.60" y1="192.00" x2="30.60" y2="192.00" stroke="#777" stroke-width="0.5"/>
<line x1="31.60" y1="194.00" x2="30.60" y2="194.00" stroke="#777" stroke-width="0.5"/>
<line x1="31.60" y1="196.00" x2="30.60" y2="196.00" stroke="#777" stroke-width="0.5"/>
<line x1="31.60" y1="198.00" x2="29.80" y2="198.00" stroke="#777" stroke-width="0.5"/>
<line x1="31.60" y1="200.00" x2="30.60" y2="200.00" stroke="#777" stroke-width="0.5"/>
<line x1="31.60" y1="202.00" x2="30.60" y2="202.00" stroke="#777" stroke-width="0.5"/>
<line x1="31.60" y1="204.00" x2="30.60" y2="204.00" stroke="#777" stroke-width="0.5"/>
<line x1="31.60" y1="206.00" x2="30.60" y2="206.00" stroke="#777" stroke-width="0.5"/>
<line x1="33.00" y1="206.00" x2="33.00" y2="207.80" stroke="#777" stroke-width="0.5"/>
<line x1="35.00" y1="206.00" x2="35.00" y2="207.00" stroke="#777" stroke-width="0.5"/>
<line x1="37.00" y1="206.00" x2="37.00" y2="207.00" stroke="#777" stroke-width="0.5"/>
<line x1="39.00" y1="206.00" x2="39.00" y2="207.00" stroke="#777" stroke-width="0.5"/>
<line x1="41.00" y1="206.00" x2="41.00" y2="207.00" stroke="#777" stroke-width="0.5"/>
<line x1="43.00" y1="206.00" x2="43.00" y2="207.80" stroke="#777" stroke-width="0.5"/>
<line x1="45.00" y1="206.00" x2="45.00" y2="207.00" stroke="#777" stroke-width="0.5"/>
<line x1="47.00" y1="206.00" x2="47.00" y2="207.00" stroke="#777" stroke-width="0.5"/>
<line x1="49.00" y1="206.00" x2="49.00" y2="207.00" stroke="#777" stroke-width="0.5"/>
<line x1="51.00" y1="206.00" x2="51.00" y2="207.00" stroke="#777" stroke-width="0.5"/>
<line x1="53.00" y1="206.00" x2="53.00" y2="207.80" stroke="#777" stroke-width="0.5"/>
<line x1="55.00" y1="206.00" x2="55.00" y2="207.00" stroke="#777" stroke-width="0.5"/>
<line x1="57.00" y1="206.00" x2="57.00" y2="207.00" stroke="#777" stroke-width="0.5"/>
<line x1="59.00" y1="206.00" x2="59.00" y2="207.00" stroke="#777" stroke-width="0.5"/>
<line x1="61.00" y1="206.00" x2="61.00" y2="207.00" stroke="#777" stroke-width="0.5"/>
<line x1="63.00" y1="206.00" x2="63.00" y2="207.80" stroke="#777" stroke-width="0.5"/>
<line x1="65.00" y1="206.00" x2="65.00" y2="207.00" stroke="#777" stroke-width="0.5"/>
<line x1="67.00" y1="206.00" x2="67.00" y2="207.00" stroke="#777" stroke-width="0.5"/>
<line x1="69.00" y1="206.00" x2="69.00" y2="207.00" stroke="#777" stroke-width="0.5"/>
<line x1="71.00" y1="206.00" x2="71.00" y2="207.00" stroke="#777" stroke-width="0.5"/>
<line x1="73.00" y1="206.00" x2="73.00" y2="207.80" stroke="#777" stroke-width="0.5"/>
<line x1="75.00" y1="206.00" x2="75.00" y2="207.00" stroke="#777" stroke-width="0.5"/>
<line x1="77.00" y1="206.00" x2="77.00" y2="207.00" stroke="#777" stroke-width="0.5"/>
<line x1="79.00" y1="206.00" x2="79.00" y2="207.00" stroke="#777" stroke-width="0.5"/>
<line x1="81.00" y1="206.00" x2="81.00" y2="207.00" stroke="#777" stroke-width="0.5"/>
<line x1="83.00" y1="206.00" x2="83.00" y2="207.80" stroke="#777" stroke-width="0.5"/>
<line x1="85.00" y1="206.00" x2="85.00" y2="207.00" stroke="#777" stroke-width="0.5"/>
<line x1="87.00" y1="206.00" x2="87.00" y2="207.00" stroke="#777" stroke-width="0.5"/>
<line x1="89.00" y1="206.00" x2="89.00" y2="207.00" stroke="#777" stroke-width="0.5"/>
<line x1="91.00" y1="206.00" x2="91.00" y2="207.00" stroke="#777" stroke-width="0.5"/>
<line x1="93.00" y1="206.00" x2="93.00" y2="207.80" stroke="#777" stroke-width="0.5"/>
<line x1="95.00" y1="206.00" x2="95.00" y2="207.00" stroke="#777" stroke-width="0.5"/>
<line x1="97.00" y1="206.00" x2="97.00" y2="207.00" stroke="#777" stroke-width="0.5"/>
<line x1="99.00" y1="206.00" x2="99.00" y2="207.00" stroke="#777" stroke-width="0.5"/>
<line x1="101.00" y1="206.00" x2="101.00" y2="207.00" stroke="#777" stroke-width="0.5"/>
<line x1="103.00" y1="206.00" x2="103.00" y2="207.80" stroke="#777" stroke-width="0.5"/>
<line x1="105.00" y1="206.00" x2="105.00" y2="207.00" stroke="#777" stroke-width="0.5"/>
<line x1="107.00" y1="206.00" x2="107.00" y2="207.00" stroke="#777" stroke-width="0.5"/>
<line x1="109.00" y1="206.00" x2="109.00" y2="207.00" stroke="#777" stroke-width="0.5"/>
<line x1="111.00" y1="206.00" x2="111.00" y2="207.00" stroke="#777" stroke-width="0.5"/>
<line x1="113.00" y1="206.00" x2="113.00" y2="207.80" stroke="#777" stroke-width="0.5"/>
<text x="43.5" y="210.8" font-size="3.6" fill="#666" text-anchor="middle">10&#178;</text>
<text x="64.6" y="210.8" font-size="3.6" fill="#666" text-anchor="middle">10&#178;</text>
<text x="86.0" y="210.8" font-size="3.6" fill="#666" text-anchor="middle">10&#178;</text>
<text x="106.0" y="210.8" font-size="3.6" fill="#666" text-anchor="middle">10&#178;</text>
<text transform="translate(27.8,133.0) rotate(-90)" font-size="3.6" fill="#666" text-anchor="middle">10&#178;</text>
<text transform="translate(27.8,146.6) rotate(-90)" font-size="3.6" fill="#666" text-anchor="middle">10&#178;</text>
<text transform="translate(27.8,161.5) rotate(-90)" font-size="3.6" fill="#666" text-anchor="middle">10&#178;</text>
<text transform="translate(27.8,176.2) rotate(-90)" font-size="3.6" fill="#666" text-anchor="middle">10&#178;</text>
<text transform="translate(27.8,190.5) rotate(-90)" font-size="3.6" fill="#666" text-anchor="middle">10&#178;</text>
<text transform="translate(27.8,200.6) rotate(-90)" font-size="3.6" fill="#666" text-anchor="middle">10&#178;</text>
<rect x="33.50" y="130.50" width="52.00" height="25.10" fill="none" stroke="#8DB9E6" stroke-width="1.0"/>
<rect x="87.20" y="142.50" width="24.20" height="55.80" fill="none" stroke="#C48FB0" stroke-width="0.9"/>
<text x="87.4" y="203.8" font-size="4.3" fill="#222" textLength="21.5" lengthAdjust="spacingAndGlyphs">CD3 96.5%</text>
<circle cx="97.99" cy="167.05" r="0.45" fill="#5C74C0" fill-opacity="0.85"/>
<circle cx="94.31" cy="167.81" r="0.45" fill="#6A78C0" fill-opacity="0.85"/>
<circle cx="102.63" cy="163.58" r="0.45" fill="#5060B8" fill-opacity="0.85"/>
<circle cx="95.81" cy="169.46" r="0.45" fill="#5060B8" fill-opacity="0.85"/>
<circle cx="105.09" cy="163.04" r="0.45" fill="#5060B8" fill-opacity="0.85"/>
<circle cx="94.94" cy="167.70" r="0.45" fill="#5060B8" fill-opacity="0.85"/>
<circle cx="107.13" cy="161.77" r="0.45" fill="#4B5FB0" fill-opacity="0.85"/>
<circle cx="96.22" cy="166.37" r="0.45" fill="#5060B8" fill-opacity="0.85"/>
<circle cx="100.28" cy="166.77" r="0.45" fill="#5060B8" fill-opacity="0.85"/>
<circle cx="100.39" cy="166.85" r="0.45" fill="#7080C8" fill-opacity="0.85"/>
<circle cx="107.53" cy="163.83" r="0.45" fill="#5060B8" fill-opacity="0.85"/>
<circle cx="101.71" cy="165.92" r="0.45" fill="#5060B8" fill-opacity="0.85"/>
<circle cx="105.25" cy="162.14" r="0.45" fill="#5060B8" fill-opacity="0.85"/>
<circle cx="102.31" cy="164.76" r="0.45" fill="#4B5FB0" fill-opacity="0.85"/>
<circle cx="97.10" cy="169.96" r="0.45" fill="#4B5FB0" fill-opacity="0.85"/>
<circle cx="94.83" cy="168.08" r="0.45" fill="#7080C8" fill-opacity="0.85"/>
<circle cx="100.26" cy="167.97" r="0.45" fill="#7080C8" fill-opacity="0.85"/>
<circle cx="95.37" cy="169.89" r="0.45" fill="#6A78C0" fill-opacity="0.85"/>
<circle cx="97.71" cy="167.52" r="0.45" fill="#6A78C0" fill-opacity="0.85"/>
<circle cx="101.93" cy="165.70" r="0.45" fill="#5060B8" fill-opacity="0.85"/>
<circle cx="100.61" cy="166.00" r="0.45" fill="#7080C8" fill-opacity="0.85"/>
<circle cx="106.19" cy="160.83" r="0.45" fill="#7080C8" fill-opacity="0.85"/>
<circle cx="108.03" cy="160.45" r="0.45" fill="#4B5FB0" fill-opacity="0.85"/>
<circle cx="94.42" cy="168.37" r="0.45" fill="#6A78C0" fill-opacity="0.85"/>
<circle cx="97.71" cy="167.38" r="0.45" fill="#7080C8" fill-opacity="0.85"/>
<circle cx="103.33" cy="164.31" r="0.45" fill="#6A78C0" fill-opacity="0.85"/>
<circle cx="101.17" cy="163.27" r="0.45" fill="#5C74C0" fill-opacity="0.85"/>
<circle cx="106.86" cy="163.57" r="0.45" fill="#5060B8" fill-opacity="0.85"/>
<circle cx="105.69" cy="163.91" r="0.45" fill="#5C74C0" fill-opacity="0.85"/>
<circle cx="107.33" cy="163.38" r="0.45" fill="#5C74C0" fill-opacity="0.85"/>
<circle cx="95.71" cy="167.64" r="0.45" fill="#4B5FB0" fill-opacity="0.85"/>
<circle cx="98.28" cy="166.34" r="0.45" fill="#5060B8" fill-opacity="0.85"/>
<circle cx="104.81" cy="165.08" r="0.45" fill="#5C74C0" fill-opacity="0.85"/>
<circle cx="107.38" cy="161.66" r="0.45" fill="#5060B8" fill-opacity="0.85"/>
<circle cx="104.81" cy="163.65" r="0.45" fill="#7080C8" fill-opacity="0.85"/>
<circle cx="95.16" cy="169.90" r="0.45" fill="#6A78C0" fill-opacity="0.85"/>
<circle cx="108.20" cy="160.20" r="0.45" fill="#5C74C0" fill-opacity="0.85"/>
<circle cx="99.78" cy="169.42" r="0.45" fill="#7080C8" fill-opacity="0.85"/>
<circle cx="102.56" cy="163.41" r="0.45" fill="#4B5FB0" fill-opacity="0.85"/>
<circle cx="100.87" cy="163.71" r="0.45" fill="#5060B8" fill-opacity="0.85"/>
<circle cx="104.81" cy="163.86" r="0.45" fill="#7080C8" fill-opacity="0.85"/>
<circle cx="107.92" cy="161.97" r="0.45" fill="#4B5FB0" fill-opacity="0.85"/>
<circle cx="105.45" cy="167.30" r="0.45" fill="#4B5FB0" fill-opacity="0.85"/>
<circle cx="96.54" cy="170.29" r="0.45" fill="#4B5FB0" fill-opacity="0.85"/>
<circle cx="104.72" cy="162.91" r="0.45" fill="#7080C8" fill-opacity="0.85"/>
<circle cx="106.60" cy="166.21" r="0.45" fill="#7080C8" fill-opacity="0.85"/>
<circle cx="109.69" cy="163.00" r="0.45" fill="#5C74C0" fill-opacity="0.85"/>
<circle cx="96.66" cy="168.80" r="0.45" fill="#4B5FB0" fill-opacity="0.85"/>
<circle cx="109.99" cy="160.16" r="0.45" fill="#4B5FB0" fill-opacity="0.85"/>
<circle cx="105.88" cy="161.55" r="0.45" fill="#4B5FB0" fill-opacity="0.85"/>
<circle cx="97.31" cy="165.99" r="0.45" fill="#5060B8" fill-opacity="0.85"/>
<circle cx="99.25" cy="166.58" r="0.45" fill="#5060B8" fill-opacity="0.85"/>
<circle cx="109.96" cy="162.27" r="0.45" fill="#5060B8" fill-opacity="0.85"/>
<circle cx="104.68" cy="161.89" r="0.45" fill="#5060B8" fill-opacity="0.85"/>
<circle cx="104.87" cy="164.33" r="0.45" fill="#5C74C0" fill-opacity="0.85"/>
<circle cx="103.36" cy="165.76" r="0.45" fill="#4B5FB0" fill-opacity="0.85"/>
<circle cx="103.03" cy="167.42" r="0.45" fill="#4B5FB0" fill-opacity="0.85"/>
<circle cx="102.75" cy="165.86" r="0.45" fill="#7080C8" fill-opacity="0.85"/>
<circle cx="98.08" cy="163.53" r="0.45" fill="#4B5FB0" fill-opacity="0.85"/>
<circle cx="101.39" cy="167.44" r="0.45" fill="#6A78C0" fill-opacity="0.85"/>
<circle cx="106.02" cy="159.33" r="0.45" fill="#7080C8" fill-opacity="0.85"/>
<circle cx="99.57" cy="166.52" r="0.45" fill="#6A78C0" fill-opacity="0.85"/>
<circle cx="108.22" cy="162.33" r="0.45" fill="#4B5FB0" fill-opacity="0.85"/>
<circle cx="103.40" cy="164.98" r="0.45" fill="#4B5FB0" fill-opacity="0.85"/>
<circle cx="103.04" cy="165.09" r="0.45" fill="#5C74C0" fill-opacity="0.85"/>
<circle cx="107.45" cy="160.40" r="0.45" fill="#4B5FB0" fill-opacity="0.85"/>
<circle cx="99.79" cy="167.42" r="0.45" fill="#7080C8" fill-opacity="0.85"/>
<circle cx="100.21" cy="166.99" r="0.45" fill="#6A78C0" fill-opacity="0.85"/>
<circle cx="109.34" cy="162.79" r="0.45" fill="#7080C8" fill-opacity="0.85"/>
<circle cx="103.43" cy="164.84" r="0.45" fill="#6A78C0" fill-opacity="0.85"/>
<circle cx="105.70" cy="162.60" r="0.45" fill="#5060B8" fill-opacity="0.85"/>
<circle cx="95.46" cy="168.55" r="0.45" fill="#7080C8" fill-opacity="0.85"/>
<circle cx="97.37" cy="168.89" r="0.45" fill="#6A78C0" fill-opacity="0.85"/>
<circle cx="101.89" cy="167.27" r="0.45" fill="#7080C8" fill-opacity="0.85"/>
<circle cx="97.67" cy="168.64" r="0.45" fill="#5060B8" fill-opacity="0.85"/>
<circle cx="102.93" cy="165.01" r="0.45" fill="#6A78C0" fill-opacity="0.85"/>
<circle cx="102.37" cy="165.66" r="0.45" fill="#6A78C0" fill-opacity="0.85"/>
<circle cx="109.42" cy="162.12" r="0.45" fill="#6A78C0" fill-opacity="0.85"/>
<circle cx="105.99" cy="161.15" r="0.45" fill="#6A78C0" fill-opacity="0.85"/>
<circle cx="97.36" cy="167.53" r="0.45" fill="#5C74C0" fill-opacity="0.85"/>
<circle cx="103.84" cy="165.51" r="0.45" fill="#5C74C0" fill-opacity="0.85"/>
<circle cx="103.01" cy="163.45" r="0.45" fill="#5C74C0" fill-opacity="0.85"/>
<circle cx="95.22" cy="171.11" r="0.45" fill="#4B5FB0" fill-opacity="0.85"/>
<circle cx="106.44" cy="162.26" r="0.45" fill="#7080C8" fill-opacity="0.85"/>
<circle cx="101.83" cy="162.14" r="0.45" fill="#7080C8" fill-opacity="0.85"/>
<circle cx="106.20" cy="160.37" r="0.45" fill="#5C74C0" fill-opacity="0.85"/>
<circle cx="100.94" cy="167.71" r="0.45" fill="#5C74C0" fill-opacity="0.85"/>
<circle cx="96.86" cy="168.36" r="0.45" fill="#6A78C0" fill-opacity="0.85"/>
<circle cx="97.33" cy="167.71" r="0.45" fill="#7080C8" fill-opacity="0.85"/>
<circle cx="105.27" cy="161.90" r="0.45" fill="#6A78C0" fill-opacity="0.85"/>
<circle cx="107.44" cy="162.02" r="0.45" fill="#5C74C0" fill-opacity="0.85"/>
<circle cx="108.43" cy="162.39" r="0.45" fill="#6A78C0" fill-opacity="0.85"/>
<circle cx="97.82" cy="164.45" r="0.45" fill="#7080C8" fill-opacity="0.85"/>
<circle cx="100.63" cy="164.95" r="0.45" fill="#6A78C0" fill-opacity="0.85"/>
<circle cx="103.33" cy="163.11" r="0.45" fill="#5060B8" fill-opacity="0.85"/>
<circle cx="99.84" cy="166.64" r="0.45" fill="#6A78C0" fill-opacity="0.85"/>
<circle cx="109.45" cy="162.62" r="0.45" fill="#4B5FB0" fill-opacity="0.85"/>
<circle cx="103.92" cy="161.86" r="0.45" fill="#5060B8" fill-opacity="0.85"/>
<circle cx="98.68" cy="166.94" r="0.45" fill="#5C74C0" fill-opacity="0.85"/>
<circle cx="106.57" cy="160.16" r="0.45" fill="#7080C8" fill-opacity="0.85"/>
<circle cx="99.03" cy="169.15" r="0.45" fill="#7080C8" fill-opacity="0.85"/>
<circle cx="102.88" cy="168.07" r="0.45" fill="#4B5FB0" fill-opacity="0.85"/>
<circle cx="105.44" cy="161.35" r="0.45" fill="#7080C8" fill-opacity="0.85"/>
<circle cx="105.36" cy="162.51" r="0.45" fill="#5C74C0" fill-opacity="0.85"/>
<circle cx="101.14" cy="166.95" r="0.45" fill="#6A78C0" fill-opacity="0.85"/>
<circle cx="103.86" cy="163.23" r="0.45" fill="#6A78C0" fill-opacity="0.85"/>
<circle cx="98.09" cy="167.61" r="0.45" fill="#5C74C0" fill-opacity="0.85"/>
<circle cx="102.35" cy="163.86" r="0.45" fill="#5060B8" fill-opacity="0.85"/>
<circle cx="99.42" cy="165.12" r="0.45" fill="#5C74C0" fill-opacity="0.85"/>
<circle cx="99.85" cy="164.01" r="0.45" fill="#5060B8" fill-opacity="0.85"/>
<circle cx="96.75" cy="169.08" r="0.45" fill="#4B5FB0" fill-opacity="0.85"/>
<circle cx="108.33" cy="161.01" r="0.45" fill="#6A78C0" fill-opacity="0.85"/>
<circle cx="101.54" cy="166.28" r="0.45" fill="#4B5FB0" fill-opacity="0.85"/>
<circle cx="98.84" cy="167.83" r="0.45" fill="#7080C8" fill-opacity="0.85"/>
<circle cx="96.97" cy="168.99" r="0.45" fill="#5C74C0" fill-opacity="0.85"/>
<circle cx="101.34" cy="168.71" r="0.45" fill="#7080C8" fill-opacity="0.85"/>
<circle cx="98.62" cy="166.45" r="0.45" fill="#4B5FB0" fill-opacity="0.85"/>
<circle cx="106.02" cy="162.13" r="0.45" fill="#5060B8" fill-opacity="0.85"/>
<circle cx="97.24" cy="165.81" r="0.45" fill="#5C74C0" fill-opacity="0.85"/>
<circle cx="104.84" cy="164.10" r="0.45" fill="#5C74C0" fill-opacity="0.85"/>
<circle cx="99.17" cy="168.38" r="0.45" fill="#4B5FB0" fill-opacity="0.85"/>
<circle cx="103.33" cy="163.91" r="0.45" fill="#6A78C0" fill-opacity="0.85"/>
<circle cx="99.66" cy="164.33" r="0.45" fill="#4B5FB0" fill-opacity="0.85"/>
<circle cx="96.45" cy="169.67" r="0.45" fill="#5C74C0" fill-opacity="0.85"/>
<circle cx="104.94" cy="162.53" r="0.45" fill="#5C74C0" fill-opacity="0.85"/>
<circle cx="108.66" cy="160.21" r="0.45" fill="#5060B8" fill-opacity="0.85"/>
<circle cx="105.53" cy="164.25" r="0.45" fill="#5060B8" fill-opacity="0.85"/>
<circle cx="107.47" cy="163.43" r="0.45" fill="#6A78C0" fill-opacity="0.85"/>
<circle cx="95.14" cy="166.81" r="0.45" fill="#5060B8" fill-opacity="0.85"/>
<circle cx="95.73" cy="167.17" r="0.45" fill="#7080C8" fill-opacity="0.85"/>
<circle cx="103.59" cy="163.97" r="0.45" fill="#5060B8" fill-opacity="0.85"/>
<circle cx="98.79" cy="164.75" r="0.45" fill="#5060B8" fill-opacity="0.85"/>
<circle cx="98.89" cy="166.21" r="0.45" fill="#5060B8" fill-opacity="0.85"/>
<circle cx="106.77" cy="162.80" r="0.45" fill="#5C74C0" fill-opacity="0.85"/>
<circle cx="105.58" cy="163.73" r="0.45" fill="#5060B8" fill-opacity="0.85"/>
<circle cx="97.29" cy="167.88" r="0.45" fill="#4B5FB0" fill-opacity="0.85"/>
<circle cx="99.43" cy="165.33" r="0.45" fill="#7080C8" fill-opacity="0.85"/>
<circle cx="95.65" cy="168.75" r="0.45" fill="#6A78C0" fill-opacity="0.85"/>
<circle cx="104.49" cy="162.80" r="0.45" fill="#4B5FB0" fill-opacity="0.85"/>
<circle cx="107.44" cy="161.65" r="0.45" fill="#7080C8" fill-opacity="0.85"/>
<circle cx="96.21" cy="165.92" r="0.45" fill="#4B5FB0" fill-opacity="0.85"/>
<circle cx="97.31" cy="165.96" r="0.45" fill="#6A78C0" fill-opacity="0.85"/>
<circle cx="96.56" cy="168.54" r="0.45" fill="#4B5FB0" fill-opacity="0.85"/>
<circle cx="107.15" cy="160.57" r="0.45" fill="#6A78C0" fill-opacity="0.85"/>
<circle cx="105.15" cy="162.30" r="0.45" fill="#5060B8" fill-opacity="0.85"/>
<circle cx="97.82" cy="167.58" r="0.45" fill="#7080C8" fill-opacity="0.85"/>
<circle cx="104.35" cy="163.68" r="0.45" fill="#7080C8" fill-opacity="0.85"/>
<circle cx="103.25" cy="162.67" r="0.45" fill="#5C74C0" fill-opacity="0.85"/>
<circle cx="104.19" cy="163.65" r="0.45" fill="#4B5FB0" fill-opacity="0.85"/>
<circle cx="94.71" cy="165.93" r="0.45" fill="#A8B8E0" fill-opacity="0.8"/>
<circle cx="102.87" cy="171.68" r="0.45" fill="#A8B8E0" fill-opacity="0.8"/>
<circle cx="100.84" cy="179.10" r="0.45" fill="#A8B8E0" fill-opacity="0.8"/>
<circle cx="95.41" cy="171.37" r="0.45" fill="#A8B8E0" fill-opacity="0.8"/>
<circle cx="88.62" cy="173.85" r="0.45" fill="#A8B8E0" fill-opacity="0.8"/>
<circle cx="94.05" cy="168.22" r="0.45" fill="#A8B8E0" fill-opacity="0.8"/>
<circle cx="102.94" cy="172.44" r="0.45" fill="#A8B8E0" fill-opacity="0.8"/>
<circle cx="104.88" cy="171.17" r="0.45" fill="#A8B8E0" fill-opacity="0.8"/>
<circle cx="97.40" cy="174.49" r="0.45" fill="#A8B8E0" fill-opacity="0.8"/>
<circle cx="93.84" cy="172.69" r="0.45" fill="#A8B8E0" fill-opacity="0.8"/>
<circle cx="93.03" cy="169.70" r="0.45" fill="#A8B8E0" fill-opacity="0.8"/>
<circle cx="96.67" cy="160.69" r="0.45" fill="#A8B8E0" fill-opacity="0.8"/>
<circle cx="92.59" cy="178.19" r="0.45" fill="#A8B8E0" fill-opacity="0.8"/>
<circle cx="96.24" cy="169.37" r="0.45" fill="#A8B8E0" fill-opacity="0.8"/>
<circle cx="97.20" cy="167.84" r="0.45" fill="#A8B8E0" fill-opacity="0.8"/>
<circle cx="92.61" cy="169.93" r="0.45" fill="#A8B8E0" fill-opacity="0.8"/>
<circle cx="92.93" cy="162.81" r="0.45" fill="#A8B8E0" fill-opacity="0.8"/>
<circle cx="98.13" cy="171.15" r="0.45" fill="#A8B8E0" fill-opacity="0.8"/>
<circle cx="98.39" cy="172.35" r="0.45" fill="#A8B8E0" fill-opacity="0.8"/>
<circle cx="101.53" cy="166.90" r="0.45" fill="#A8B8E0" fill-opacity="0.8"/>
<circle cx="94.08" cy="168.64" r="0.45" fill="#A8B8E0" fill-opacity="0.8"/>
<circle cx="94.93" cy="178.25" r="0.45" fill="#A8B8E0" fill-opacity="0.8"/>
<circle cx="104.33" cy="169.51" r="0.45" fill="#A8B8E0" fill-opacity="0.8"/>
<circle cx="94.30" cy="169.24" r="0.45" fill="#A8B8E0" fill-opacity="0.8"/>
<circle cx="103.12" cy="169.45" r="0.45" fill="#A8B8E0" fill-opacity="0.8"/>
<circle cx="94.63" cy="172.57" r="0.45" fill="#A8B8E0" fill-opacity="0.8"/>
<circle cx="98.95" cy="171.48" r="0.45" fill="#A8B8E0" fill-opacity="0.8"/>
<circle cx="99.29" cy="171.15" r="0.45" fill="#A8B8E0" fill-opacity="0.8"/>
<circle cx="98.46" cy="166.61" r="0.45" fill="#A8B8E0" fill-opacity="0.8"/>
<circle cx="97.77" cy="166.60" r="0.45" fill="#A8B8E0" fill-opacity="0.8"/>
<text x="58.40" y="170.90" font-size="10.75" font-weight="bold" fill="#000" stroke="#000" stroke-width="0.32" text-anchor="middle" textLength="29.95" lengthAdjust="spacingAndGlyphs">CD19</text>
<text x="58.55" y="185.30" font-size="11.31" font-weight="bold" fill="#000" stroke="#000" stroke-width="0.34" text-anchor="middle" textLength="16.69" lengthAdjust="spacingAndGlyphs">0%</text>
<text transform="translate(13.80,167.45) rotate(-90)" x="0" y="0" font-size="10.89" font-weight="bold" fill="#000" stroke="#000" stroke-width="0.33" text-anchor="middle" textLength="28.86" lengthAdjust="spacingAndGlyphs">DAY 2</text>
<line x1="21.00" y1="127.60" x2="21.00" y2="189.60" stroke="#444" stroke-width="0.8"/>
<path d="M19.9,129.0 L21,126.6 L22.1,129.0Z" fill="#333"/>
<text transform="translate(24.20,202.65) rotate(-90)" x="0" y="0" font-size="7.54" font-weight="bold" fill="#000" stroke="#000" stroke-width="0.23" text-anchor="middle" textLength="17.23" lengthAdjust="spacingAndGlyphs">CD19</text>
<text x="32.20" y="216.70" font-size="6.56" font-weight="bold" fill="#000" stroke="#000" stroke-width="0.20" text-anchor="middle" textLength="13.86" lengthAdjust="spacingAndGlyphs">CD3</text>
<line x1="42.70" y1="214.50" x2="112.80" y2="214.50" stroke="#444" stroke-width="0.8"/>
<path d="M112.2,213.4 L114.4,214.5 L112.2,215.6Z" fill="#333"/>
<line x1="115.30" y1="162.70" x2="134.80" y2="139.20" stroke="#222" stroke-width="1.1"/>
<line x1="115.30" y1="162.70" x2="135.30" y2="187.00" stroke="#222" stroke-width="1.1"/>
<text x="200.90" y="28.10" font-size="10.75" font-weight="bold" fill="#000" stroke="#000" stroke-width="0.32" text-anchor="middle" textLength="35.75" lengthAdjust="spacingAndGlyphs">CAR-T</text>
<rect x="149.50" y="35.50" width="102.00" height="103.00" fill="none" stroke="#8C8C8C" stroke-width="1.0"/>
<line x1="149.50" y1="131.66" x2="147.90" y2="131.66" stroke="#555" stroke-width="0.6"/>
<line x1="149.50" y1="124.82" x2="147.90" y2="124.82" stroke="#555" stroke-width="0.6"/>
<line x1="149.50" y1="117.97" x2="147.90" y2="117.97" stroke="#555" stroke-width="0.6"/>
<line x1="149.50" y1="111.13" x2="147.90" y2="111.13" stroke="#555" stroke-width="0.6"/>
<line x1="149.50" y1="104.29" x2="147.90" y2="104.29" stroke="#555" stroke-width="0.6"/>
<line x1="149.50" y1="97.45" x2="147.90" y2="97.45" stroke="#555" stroke-width="0.6"/>
<line x1="149.50" y1="90.60" x2="147.90" y2="90.60" stroke="#555" stroke-width="0.6"/>
<line x1="149.50" y1="83.76" x2="147.90" y2="83.76" stroke="#555" stroke-width="0.6"/>
<line x1="149.50" y1="76.92" x2="147.90" y2="76.92" stroke="#555" stroke-width="0.6"/>
<line x1="149.50" y1="70.08" x2="147.90" y2="70.08" stroke="#555" stroke-width="0.6"/>
<line x1="149.50" y1="63.24" x2="147.90" y2="63.24" stroke="#555" stroke-width="0.6"/>
<line x1="149.50" y1="56.39" x2="147.90" y2="56.39" stroke="#555" stroke-width="0.6"/>
<line x1="149.50" y1="49.55" x2="147.90" y2="49.55" stroke="#555" stroke-width="0.6"/>
<line x1="149.50" y1="42.71" x2="147.90" y2="42.71" stroke="#555" stroke-width="0.6"/>
<line x1="152.50" y1="138.50" x2="152.50" y2="140.30" stroke="#555" stroke-width="0.55"/>
<line x1="154.68" y1="138.50" x2="154.68" y2="139.50" stroke="#555" stroke-width="0.55"/>
<line x1="156.86" y1="138.50" x2="156.86" y2="139.50" stroke="#555" stroke-width="0.55"/>
<line x1="159.03" y1="138.50" x2="159.03" y2="139.50" stroke="#555" stroke-width="0.55"/>
<line x1="161.21" y1="138.50" x2="161.21" y2="139.50" stroke="#555" stroke-width="0.55"/>
<line x1="163.39" y1="138.50" x2="163.39" y2="140.30" stroke="#555" stroke-width="0.55"/>
<line x1="165.57" y1="138.50" x2="165.57" y2="139.50" stroke="#555" stroke-width="0.55"/>
<line x1="167.74" y1="138.50" x2="167.74" y2="139.50" stroke="#555" stroke-width="0.55"/>
<line x1="169.92" y1="138.50" x2="169.92" y2="139.50" stroke="#555" stroke-width="0.55"/>
<line x1="172.10" y1="138.50" x2="172.10" y2="139.50" stroke="#555" stroke-width="0.55"/>
<line x1="174.28" y1="138.50" x2="174.28" y2="140.30" stroke="#555" stroke-width="0.55"/>
<line x1="176.46" y1="138.50" x2="176.46" y2="139.50" stroke="#555" stroke-width="0.55"/>
<line x1="178.63" y1="138.50" x2="178.63" y2="139.50" stroke="#555" stroke-width="0.55"/>
<line x1="180.81" y1="138.50" x2="180.81" y2="139.50" stroke="#555" stroke-width="0.55"/>
<line x1="182.99" y1="138.50" x2="182.99" y2="139.50" stroke="#555" stroke-width="0.55"/>
<line x1="185.17" y1="138.50" x2="185.17" y2="140.30" stroke="#555" stroke-width="0.55"/>
<line x1="187.34" y1="138.50" x2="187.34" y2="139.50" stroke="#555" stroke-width="0.55"/>
<line x1="189.52" y1="138.50" x2="189.52" y2="139.50" stroke="#555" stroke-width="0.55"/>
<line x1="191.70" y1="138.50" x2="191.70" y2="139.50" stroke="#555" stroke-width="0.55"/>
<line x1="193.88" y1="138.50" x2="193.88" y2="139.50" stroke="#555" stroke-width="0.55"/>
<line x1="196.06" y1="138.50" x2="196.06" y2="140.30" stroke="#555" stroke-width="0.55"/>
<line x1="198.23" y1="138.50" x2="198.23" y2="139.50" stroke="#555" stroke-width="0.55"/>
<line x1="200.41" y1="138.50" x2="200.41" y2="139.50" stroke="#555" stroke-width="0.55"/>
<line x1="202.59" y1="138.50" x2="202.59" y2="139.50" stroke="#555" stroke-width="0.55"/>
<line x1="204.77" y1="138.50" x2="204.77" y2="139.50" stroke="#555" stroke-width="0.55"/>
<line x1="206.94" y1="138.50" x2="206.94" y2="140.30" stroke="#555" stroke-width="0.55"/>
<line x1="209.12" y1="138.50" x2="209.12" y2="139.50" stroke="#555" stroke-width="0.55"/>
<line x1="211.30" y1="138.50" x2="211.30" y2="139.50" stroke="#555" stroke-width="0.55"/>
<line x1="213.48" y1="138.50" x2="213.48" y2="139.50" stroke="#555" stroke-width="0.55"/>
<line x1="215.66" y1="138.50" x2="215.66" y2="139.50" stroke="#555" stroke-width="0.55"/>
<line x1="217.83" y1="138.50" x2="217.83" y2="140.30" stroke="#555" stroke-width="0.55"/>
<line x1="220.01" y1="138.50" x2="220.01" y2="139.50" stroke="#555" stroke-width="0.55"/>
<line x1="222.19" y1="138.50" x2="222.19" y2="139.50" stroke="#555" stroke-width="0.55"/>
<line x1="224.37" y1="138.50" x2="224.37" y2="139.50" stroke="#555" stroke-width="0.55"/>
<line x1="226.54" y1="138.50" x2="226.54" y2="139.50" stroke="#555" stroke-width="0.55"/>
<line x1="228.72" y1="138.50" x2="228.72" y2="140.30" stroke="#555" stroke-width="0.55"/>
<line x1="230.90" y1="138.50" x2="230.90" y2="139.50" stroke="#555" stroke-width="0.55"/>
<line x1="233.08" y1="138.50" x2="233.08" y2="139.50" stroke="#555" stroke-width="0.55"/>
<line x1="235.26" y1="138.50" x2="235.26" y2="139.50" stroke="#555" stroke-width="0.55"/>
<line x1="237.43" y1="138.50" x2="237.43" y2="139.50" stroke="#555" stroke-width="0.55"/>
<line x1="239.61" y1="138.50" x2="239.61" y2="140.30" stroke="#555" stroke-width="0.55"/>
<line x1="241.79" y1="138.50" x2="241.79" y2="139.50" stroke="#555" stroke-width="0.55"/>
<line x1="243.97" y1="138.50" x2="243.97" y2="139.50" stroke="#555" stroke-width="0.55"/>
<line x1="246.14" y1="138.50" x2="246.14" y2="139.50" stroke="#555" stroke-width="0.55"/>
<line x1="248.32" y1="138.50" x2="248.32" y2="139.50" stroke="#555" stroke-width="0.55"/>
<line x1="250.50" y1="138.50" x2="250.50" y2="140.30" stroke="#555" stroke-width="0.55"/>
<path d="M166.30,138.30 L167.50,131.30 L168.20,120.10 L168.90,129.00 L170.40,128.00 L171.40,114.00 L172.30,105.40 L173.10,118.50 L173.70,119.00 L174.30,98.90 L175.00,112.00 L176.00,138.30Z" fill="#B43C96" fill-opacity="0.9"/>
<path d="M158.40,138.30 L158.90,133.20 L159.50,138.30 L163.40,138.30 L163.90,134.80 L164.40,138.30 L166.20,138.30 L167.60,132.50 L168.60,128.50 L169.30,129.50 L170.20,128.00 L171.50,121.00 L172.50,117.50 L173.40,120.50 L174.50,112.00 L175.20,113.50 L176.00,110.70 L177.30,98.90 L178.20,100.20 L179.20,103.60 L180.30,109.70 L181.20,116.60 L181.60,127.80 L182.90,129.60 L184.60,116.60 L185.50,117.50 L185.90,133.00 L187.70,135.60 L189.80,127.80 L190.70,135.60 L192.50,135.80 L194.60,133.90 L195.80,136.50 L198.00,136.80 L200.20,135.20 L201.20,137.00 L203.50,137.00 L204.50,135.30 L205.30,138.30Z" fill="#3566C2" fill-opacity="0.95"/>
<path d="M175.60,138.30 L176.60,104.00 L177.40,100.00 L178.50,103.00 L179.60,110.00 L180.40,138.30Z" fill="#4A82D4" fill-opacity="0.55"/>
<path d="M171.80,138.30 L172.60,118.00 L173.30,122.00 L173.90,138.30Z" fill="#7FA6E0" fill-opacity="0.35"/>
<line x1="176.40" y1="96.10" x2="233.00" y2="96.10" stroke="#7EB1E1" stroke-width="1.1"/>
<line x1="176.40" y1="94.20" x2="176.40" y2="98.00" stroke="#7EB1E1" stroke-width="0.9"/>
<line x1="233.00" y1="94.20" x2="233.00" y2="98.00" stroke="#7EB1E1" stroke-width="0.9"/>
<text x="202.80" y="76.00" font-size="10.61" font-weight="bold" fill="#000" stroke="#000" stroke-width="0.32" text-anchor="middle" textLength="42.74" lengthAdjust="spacingAndGlyphs">CD107a</text>
<text x="202.70" y="90.40" font-size="11.45" font-weight="bold" fill="#000" stroke="#000" stroke-width="0.34" text-anchor="middle" textLength="32.20" lengthAdjust="spacingAndGlyphs">54.5%</text>
<text x="160.4" y="145.2" font-size="3.2" fill="#777" text-anchor="middle">10&#178;</text>
<text x="189.2" y="145.2" font-size="3.2" fill="#777" text-anchor="middle">10&#178;</text>
<text x="219.6" y="145.2" font-size="3.2" fill="#777" text-anchor="middle">10&#178;</text>
<text x="247.6" y="145.2" font-size="3.2" fill="#777" text-anchor="middle">10&#178;</text>
<line x1="140.10" y1="38.40" x2="140.10" y2="117.10" stroke="#333" stroke-width="0.8"/>
<path d="M139.20,39.40 L140.10,37.20 L141.00,39.40Z" fill="#333"/>
<text transform="translate(143.40,131.40) rotate(-90)" x="0" y="0" font-size="7.54" font-weight="bold" fill="#000" stroke="#000" stroke-width="0.23" text-anchor="middle" textLength="22.73" lengthAdjust="spacingAndGlyphs">Count</text>
<text x="161.10" y="153.70" font-size="7.54" font-weight="bold" fill="#000" stroke="#000" stroke-width="0.23" text-anchor="middle" textLength="28.13" lengthAdjust="spacingAndGlyphs">CD107a</text>
<line x1="181.40" y1="150.70" x2="250.10" y2="150.70" stroke="#333" stroke-width="0.8"/>
<path d="M249.40,149.80 L251.60,150.70 L249.40,151.60Z" fill="#333"/>
<text x="332.05" y="16.30" font-size="11.03" font-weight="bold" fill="#000" stroke="#000" stroke-width="0.33" text-anchor="middle" textLength="78.07" lengthAdjust="spacingAndGlyphs">Untransduced</text>
<text x="332.30" y="30.10" font-size="10.89" font-weight="bold" fill="#000" stroke="#000" stroke-width="0.33" text-anchor="middle" textLength="72.36" lengthAdjust="spacingAndGlyphs">T cell control</text>
<rect x="279.30" y="34.50" width="104.20" height="104.00" fill="none" stroke="#8C8C8C" stroke-width="1.0"/>
<line x1="279.30" y1="131.59" x2="277.70" y2="131.59" stroke="#555" stroke-width="0.6"/>
<line x1="279.30" y1="124.68" x2="277.70" y2="124.68" stroke="#555" stroke-width="0.6"/>
<line x1="279.30" y1="117.77" x2="277.70" y2="117.77" stroke="#555" stroke-width="0.6"/>
<line x1="279.30" y1="110.87" x2="277.70" y2="110.87" stroke="#555" stroke-width="0.6"/>
<line x1="279.30" y1="103.96" x2="277.70" y2="103.96" stroke="#555" stroke-width="0.6"/>
<line x1="279.30" y1="97.05" x2="277.70" y2="97.05" stroke="#555" stroke-width="0.6"/>
<line x1="279.30" y1="90.14" x2="277.70" y2="90.14" stroke="#555" stroke-width="0.6"/>
<line x1="279.30" y1="83.23" x2="277.70" y2="83.23" stroke="#555" stroke-width="0.6"/>
<line x1="279.30" y1="76.32" x2="277.70" y2="76.32" stroke="#555" stroke-width="0.6"/>
<line x1="279.30" y1="69.41" x2="277.70" y2="69.41" stroke="#555" stroke-width="0.6"/>
<line x1="279.30" y1="62.51" x2="277.70" y2="62.51" stroke="#555" stroke-width="0.6"/>
<line x1="279.30" y1="55.60" x2="277.70" y2="55.60" stroke="#555" stroke-width="0.6"/>
<line x1="279.30" y1="48.69" x2="277.70" y2="48.69" stroke="#555" stroke-width="0.6"/>
<line x1="279.30" y1="41.78" x2="277.70" y2="41.78" stroke="#555" stroke-width="0.6"/>
<line x1="282.30" y1="138.50" x2="282.30" y2="140.30" stroke="#555" stroke-width="0.55"/>
<line x1="284.53" y1="138.50" x2="284.53" y2="139.50" stroke="#555" stroke-width="0.55"/>
<line x1="286.75" y1="138.50" x2="286.75" y2="139.50" stroke="#555" stroke-width="0.55"/>
<line x1="288.98" y1="138.50" x2="288.98" y2="139.50" stroke="#555" stroke-width="0.55"/>
<line x1="291.21" y1="138.50" x2="291.21" y2="139.50" stroke="#555" stroke-width="0.55"/>
<line x1="293.43" y1="138.50" x2="293.43" y2="140.30" stroke="#555" stroke-width="0.55"/>
<line x1="295.66" y1="138.50" x2="295.66" y2="139.50" stroke="#555" stroke-width="0.55"/>
<line x1="297.89" y1="138.50" x2="297.89" y2="139.50" stroke="#555" stroke-width="0.55"/>
<line x1="300.11" y1="138.50" x2="300.11" y2="139.50" stroke="#555" stroke-width="0.55"/>
<line x1="302.34" y1="138.50" x2="302.34" y2="139.50" stroke="#555" stroke-width="0.55"/>
<line x1="304.57" y1="138.50" x2="304.57" y2="140.30" stroke="#555" stroke-width="0.55"/>
<line x1="306.79" y1="138.50" x2="306.79" y2="139.50" stroke="#555" stroke-width="0.55"/>
<line x1="309.02" y1="138.50" x2="309.02" y2="139.50" stroke="#555" stroke-width="0.55"/>
<line x1="311.25" y1="138.50" x2="311.25" y2="139.50" stroke="#555" stroke-width="0.55"/>
<line x1="313.47" y1="138.50" x2="313.47" y2="139.50" stroke="#555" stroke-width="0.55"/>
<line x1="315.70" y1="138.50" x2="315.70" y2="140.30" stroke="#555" stroke-width="0.55"/>
<line x1="317.93" y1="138.50" x2="317.93" y2="139.50" stroke="#555" stroke-width="0.55"/>
<line x1="320.15" y1="138.50" x2="320.15" y2="139.50" stroke="#555" stroke-width="0.55"/>
<line x1="322.38" y1="138.50" x2="322.38" y2="139.50" stroke="#555" stroke-width="0.55"/>
<line x1="324.61" y1="138.50" x2="324.61" y2="139.50" stroke="#555" stroke-width="0.55"/>
<line x1="326.83" y1="138.50" x2="326.83" y2="140.30" stroke="#555" stroke-width="0.55"/>
<line x1="329.06" y1="138.50" x2="329.06" y2="139.50" stroke="#555" stroke-width="0.55"/>
<line x1="331.29" y1="138.50" x2="331.29" y2="139.50" stroke="#555" stroke-width="0.55"/>
<line x1="333.51" y1="138.50" x2="333.51" y2="139.50" stroke="#555" stroke-width="0.55"/>
<line x1="335.74" y1="138.50" x2="335.74" y2="139.50" stroke="#555" stroke-width="0.55"/>
<line x1="337.97" y1="138.50" x2="337.97" y2="140.30" stroke="#555" stroke-width="0.55"/>
<line x1="340.19" y1="138.50" x2="340.19" y2="139.50" stroke="#555" stroke-width="0.55"/>
<line x1="342.42" y1="138.50" x2="342.42" y2="139.50" stroke="#555" stroke-width="0.55"/>
<line x1="344.65" y1="138.50" x2="344.65" y2="139.50" stroke="#555" stroke-width="0.55"/>
<line x1="346.87" y1="138.50" x2="346.87" y2="139.50" stroke="#555" stroke-width="0.55"/>
<line x1="349.10" y1="138.50" x2="349.10" y2="140.30" stroke="#555" stroke-width="0.55"/>
<line x1="351.33" y1="138.50" x2="351.33" y2="139.50" stroke="#555" stroke-width="0.55"/>
<line x1="353.55" y1="138.50" x2="353.55" y2="139.50" stroke="#555" stroke-width="0.55"/>
<line x1="355.78" y1="138.50" x2="355.78" y2="139.50" stroke="#555" stroke-width="0.55"/>
<line x1="358.01" y1="138.50" x2="358.01" y2="139.50" stroke="#555" stroke-width="0.55"/>
<line x1="360.23" y1="138.50" x2="360.23" y2="140.30" stroke="#555" stroke-width="0.55"/>
<line x1="362.46" y1="138.50" x2="362.46" y2="139.50" stroke="#555" stroke-width="0.55"/>
<line x1="364.69" y1="138.50" x2="364.69" y2="139.50" stroke="#555" stroke-width="0.55"/>
<line x1="366.91" y1="138.50" x2="366.91" y2="139.50" stroke="#555" stroke-width="0.55"/>
<line x1="369.14" y1="138.50" x2="369.14" y2="139.50" stroke="#555" stroke-width="0.55"/>
<line x1="371.37" y1="138.50" x2="371.37" y2="140.30" stroke="#555" stroke-width="0.55"/>
<line x1="373.59" y1="138.50" x2="373.59" y2="139.50" stroke="#555" stroke-width="0.55"/>
<line x1="375.82" y1="138.50" x2="375.82" y2="139.50" stroke="#555" stroke-width="0.55"/>
<line x1="378.05" y1="138.50" x2="378.05" y2="139.50" stroke="#555" stroke-width="0.55"/>
<line x1="380.27" y1="138.50" x2="380.27" y2="139.50" stroke="#555" stroke-width="0.55"/>
<line x1="382.50" y1="138.50" x2="382.50" y2="140.30" stroke="#555" stroke-width="0.55"/>
<path d="M293.60,138.30 L294.20,135.20 L295.60,130.40 L297.50,116.90 L299.40,88.00 L301.30,59.20 L302.70,49.60 L304.20,55.40 L305.80,78.50 L307.10,107.30 L307.70,122.70 L309.00,130.40 L311.00,135.20 L313.50,137.00 L316.00,137.50 L318.00,138.30Z" fill="#2B44AC" fill-opacity="0.97"/>
<path d="M307.00,138.30 L307.80,124.00 L309.00,128.00 L310.20,132.00 L311.20,138.30Z" fill="#B04080" fill-opacity="0.35"/>
<line x1="307.00" y1="95.50" x2="364.50" y2="95.50" stroke="#C9AEB5" stroke-width="1.1"/>
<line x1="307.00" y1="93.60" x2="307.00" y2="97.40" stroke="#C9AEB5" stroke-width="0.9"/>
<line x1="364.50" y1="93.60" x2="364.50" y2="97.40" stroke="#C9AEB5" stroke-width="0.9"/>
<text x="340.20" y="72.20" font-size="10.75" font-weight="bold" fill="#000" stroke="#000" stroke-width="0.32" text-anchor="middle" textLength="42.75" lengthAdjust="spacingAndGlyphs">CD107a</text>
<text x="340.15" y="86.50" font-size="11.59" font-weight="bold" fill="#000" stroke="#000" stroke-width="0.35" text-anchor="middle" textLength="26.51" lengthAdjust="spacingAndGlyphs">7.7%</text>
<text x="293.6" y="144.8" font-size="3.2" fill="#777" text-anchor="middle">10&#178;</text>
<text x="322.0" y="144.8" font-size="3.2" fill="#777" text-anchor="middle">10&#178;</text>
<text x="351.7" y="144.8" font-size="3.2" fill="#777" text-anchor="middle">10&#178;</text>
<text x="380.5" y="144.8" font-size="3.2" fill="#777" text-anchor="middle">10&#178;</text>
<line x1="268.30" y1="37.00" x2="268.30" y2="119.50" stroke="#333" stroke-width="0.8"/>
<path d="M267.40,38.00 L268.30,35.80 L269.20,38.00Z" fill="#333"/>
<text transform="translate(271.50,131.95) rotate(-90)" x="0" y="0" font-size="7.96" font-weight="bold" fill="#000" stroke="#000" stroke-width="0.24" text-anchor="middle" textLength="21.66" lengthAdjust="spacingAndGlyphs">Count</text>
<text x="284.50" y="152.60" font-size="7.12" font-weight="bold" fill="#000" stroke="#000" stroke-width="0.21" text-anchor="middle" textLength="28.30" lengthAdjust="spacingAndGlyphs">CD107a</text>
<line x1="304.10" y1="149.50" x2="382.50" y2="149.50" stroke="#333" stroke-width="0.8"/>
<path d="M381.80,148.60 L384.00,149.50 L381.80,150.40Z" fill="#333"/>
<rect x="148.50" y="166.50" width="104.00" height="105.00" fill="none" stroke="#8C8C8C" stroke-width="1.0"/>
<line x1="148.50" y1="264.52" x2="146.90" y2="264.52" stroke="#555" stroke-width="0.6"/>
<line x1="148.50" y1="257.55" x2="146.90" y2="257.55" stroke="#555" stroke-width="0.6"/>
<line x1="148.50" y1="250.57" x2="146.90" y2="250.57" stroke="#555" stroke-width="0.6"/>
<line x1="148.50" y1="243.60" x2="146.90" y2="243.60" stroke="#555" stroke-width="0.6"/>
<line x1="148.50" y1="236.62" x2="146.90" y2="236.62" stroke="#555" stroke-width="0.6"/>
<line x1="148.50" y1="229.65" x2="146.90" y2="229.65" stroke="#555" stroke-width="0.6"/>
<line x1="148.50" y1="222.68" x2="146.90" y2="222.68" stroke="#555" stroke-width="0.6"/>
<line x1="148.50" y1="215.70" x2="146.90" y2="215.70" stroke="#555" stroke-width="0.6"/>
<line x1="148.50" y1="208.72" x2="146.90" y2="208.72" stroke="#555" stroke-width="0.6"/>
<line x1="148.50" y1="201.75" x2="146.90" y2="201.75" stroke="#555" stroke-width="0.6"/>
<line x1="148.50" y1="194.77" x2="146.90" y2="194.77" stroke="#555" stroke-width="0.6"/>
<line x1="148.50" y1="187.80" x2="146.90" y2="187.80" stroke="#555" stroke-width="0.6"/>
<line x1="148.50" y1="180.82" x2="146.90" y2="180.82" stroke="#555" stroke-width="0.6"/>
<line x1="148.50" y1="173.85" x2="146.90" y2="173.85" stroke="#555" stroke-width="0.6"/>
<line x1="151.50" y1="271.50" x2="151.50" y2="273.30" stroke="#555" stroke-width="0.55"/>
<line x1="153.72" y1="271.50" x2="153.72" y2="272.50" stroke="#555" stroke-width="0.55"/>
<line x1="155.94" y1="271.50" x2="155.94" y2="272.50" stroke="#555" stroke-width="0.55"/>
<line x1="158.17" y1="271.50" x2="158.17" y2="272.50" stroke="#555" stroke-width="0.55"/>
<line x1="160.39" y1="271.50" x2="160.39" y2="272.50" stroke="#555" stroke-width="0.55"/>
<line x1="162.61" y1="271.50" x2="162.61" y2="273.30" stroke="#555" stroke-width="0.55"/>
<line x1="164.83" y1="271.50" x2="164.83" y2="272.50" stroke="#555" stroke-width="0.55"/>
<line x1="167.06" y1="271.50" x2="167.06" y2="272.50" stroke="#555" stroke-width="0.55"/>
<line x1="169.28" y1="271.50" x2="169.28" y2="272.50" stroke="#555" stroke-width="0.55"/>
<line x1="171.50" y1="271.50" x2="171.50" y2="272.50" stroke="#555" stroke-width="0.55"/>
<line x1="173.72" y1="271.50" x2="173.72" y2="273.30" stroke="#555" stroke-width="0.55"/>
<line x1="175.94" y1="271.50" x2="175.94" y2="272.50" stroke="#555" stroke-width="0.55"/>
<line x1="178.17" y1="271.50" x2="178.17" y2="272.50" stroke="#555" stroke-width="0.55"/>
<line x1="180.39" y1="271.50" x2="180.39" y2="272.50" stroke="#555" stroke-width="0.55"/>
<line x1="182.61" y1="271.50" x2="182.61" y2="272.50" stroke="#555" stroke-width="0.55"/>
<line x1="184.83" y1="271.50" x2="184.83" y2="273.30" stroke="#555" stroke-width="0.55"/>
<line x1="187.06" y1="271.50" x2="187.06" y2="272.50" stroke="#555" stroke-width="0.55"/>
<line x1="189.28" y1="271.50" x2="189.28" y2="272.50" stroke="#555" stroke-width="0.55"/>
<line x1="191.50" y1="271.50" x2="191.50" y2="272.50" stroke="#555" stroke-width="0.55"/>
<line x1="193.72" y1="271.50" x2="193.72" y2="272.50" stroke="#555" stroke-width="0.55"/>
<line x1="195.94" y1="271.50" x2="195.94" y2="273.30" stroke="#555" stroke-width="0.55"/>
<line x1="198.17" y1="271.50" x2="198.17" y2="272.50" stroke="#555" stroke-width="0.55"/>
<line x1="200.39" y1="271.50" x2="200.39" y2="272.50" stroke="#555" stroke-width="0.55"/>
<line x1="202.61" y1="271.50" x2="202.61" y2="272.50" stroke="#555" stroke-width="0.55"/>
<line x1="204.83" y1="271.50" x2="204.83" y2="272.50" stroke="#555" stroke-width="0.55"/>
<line x1="207.06" y1="271.50" x2="207.06" y2="273.30" stroke="#555" stroke-width="0.55"/>
<line x1="209.28" y1="271.50" x2="209.28" y2="272.50" stroke="#555" stroke-width="0.55"/>
<line x1="211.50" y1="271.50" x2="211.50" y2="272.50" stroke="#555" stroke-width="0.55"/>
<line x1="213.72" y1="271.50" x2="213.72" y2="272.50" stroke="#555" stroke-width="0.55"/>
<line x1="215.94" y1="271.50" x2="215.94" y2="272.50" stroke="#555" stroke-width="0.55"/>
<line x1="218.17" y1="271.50" x2="218.17" y2="273.30" stroke="#555" stroke-width="0.55"/>
<line x1="220.39" y1="271.50" x2="220.39" y2="272.50" stroke="#555" stroke-width="0.55"/>
<line x1="222.61" y1="271.50" x2="222.61" y2="272.50" stroke="#555" stroke-width="0.55"/>
<line x1="224.83" y1="271.50" x2="224.83" y2="272.50" stroke="#555" stroke-width="0.55"/>
<line x1="227.06" y1="271.50" x2="227.06" y2="272.50" stroke="#555" stroke-width="0.55"/>
<line x1="229.28" y1="271.50" x2="229.28" y2="273.30" stroke="#555" stroke-width="0.55"/>
<line x1="231.50" y1="271.50" x2="231.50" y2="272.50" stroke="#555" stroke-width="0.55"/>
<line x1="233.72" y1="271.50" x2="233.72" y2="272.50" stroke="#555" stroke-width="0.55"/>
<line x1="235.94" y1="271.50" x2="235.94" y2="272.50" stroke="#555" stroke-width="0.55"/>
<line x1="238.17" y1="271.50" x2="238.17" y2="272.50" stroke="#555" stroke-width="0.55"/>
<line x1="240.39" y1="271.50" x2="240.39" y2="273.30" stroke="#555" stroke-width="0.55"/>
<line x1="242.61" y1="271.50" x2="242.61" y2="272.50" stroke="#555" stroke-width="0.55"/>
<line x1="244.83" y1="271.50" x2="244.83" y2="272.50" stroke="#555" stroke-width="0.55"/>
<line x1="247.06" y1="271.50" x2="247.06" y2="272.50" stroke="#555" stroke-width="0.55"/>
<line x1="249.28" y1="271.50" x2="249.28" y2="272.50" stroke="#555" stroke-width="0.55"/>
<line x1="251.50" y1="271.50" x2="251.50" y2="273.30" stroke="#555" stroke-width="0.55"/>
<path d="M163.00,271.00 L163.60,264.00 L164.50,262.50 L165.30,266.00 L166.50,260.00 L167.40,265.00 L168.50,271.00Z" fill="#B43C96" fill-opacity="0.9"/>
<path d="M172.40,271.00 L173.30,255.00 L174.20,271.00Z" fill="#B43C96" fill-opacity="0.9"/>
<path d="M191.00,271.00 L191.70,265.50 L192.40,271.00Z" fill="#B43C96" fill-opacity="0.9"/>
<path d="M193.50,271.00 L194.20,267.50 L194.90,271.00Z" fill="#B43C96" fill-opacity="0.9"/>
<path d="M164.50,271.00 L165.50,266.00 L167.00,264.50 L168.00,268.00 L169.50,266.50 L170.50,271.00Z" fill="#3466C0" fill-opacity="0.85"/>
<path d="M172.80,271.00 L173.60,265.00 L174.60,263.50 L175.60,271.00Z" fill="#3466C0" fill-opacity="0.85"/>
<path d="M177.00,271.00 L177.60,266.50 L178.40,271.00Z" fill="#4B80D0" fill-opacity="0.8"/>
<path d="M183.00,271.00 L183.80,265.50 L184.60,271.00Z" fill="#3466C0" fill-opacity="0.8"/>
<path d="M195.00,271.00 L195.80,264.50 L196.60,271.00Z" fill="#4B80D0" fill-opacity="0.8"/>
<path d="M194.60,271.00 L195.00,264.30 L195.80,266.50 L196.60,271.00Z" fill="#3566C2" fill-opacity="0.9"/>
<path d="M200.20,271.00 L200.80,269.00 L201.80,262.10 L203.20,251.60 L204.30,261.10 L205.50,255.80 L206.80,262.10 L208.20,251.60 L209.20,246.30 L210.30,244.20 L211.30,247.40 L212.10,227.40 L212.90,229.50 L213.80,251.60 L215.00,249.50 L216.10,239.00 L217.10,241.10 L218.40,242.10 L219.20,246.30 L220.30,252.70 L220.80,263.20 L222.40,264.30 L223.40,269.50 L224.00,271.00Z" fill="#3566C2" fill-opacity="0.95"/>
<path d="M209.00,271.00 L210.30,246.00 L211.30,249.00 L212.10,230.00 L212.90,232.00 L213.60,271.00Z" fill="#4A82D4" fill-opacity="0.5"/>
<line x1="194.40" y1="223.00" x2="236.60" y2="223.00" stroke="#7EB1E1" stroke-width="1.1"/>
<line x1="194.40" y1="221.10" x2="194.40" y2="224.90" stroke="#7EB1E1" stroke-width="0.9"/>
<line x1="236.60" y1="221.10" x2="236.60" y2="224.90" stroke="#7EB1E1" stroke-width="0.9"/>
<text x="219.35" y="203.00" font-size="10.61" font-weight="bold" fill="#000" stroke="#000" stroke-width="0.32" text-anchor="middle" textLength="30.24" lengthAdjust="spacingAndGlyphs">CD25</text>
<text x="219.35" y="216.90" font-size="12.15" font-weight="bold" fill="#000" stroke="#000" stroke-width="0.36" text-anchor="middle" textLength="33.55" lengthAdjust="spacingAndGlyphs">83.6%</text>
<text x="158.4" y="277.2" font-size="3.2" fill="#777" text-anchor="middle">10&#178;</text>
<text x="183.8" y="277.2" font-size="3.2" fill="#777" text-anchor="middle">10&#178;</text>
<text x="211.0" y="277.2" font-size="3.2" fill="#777" text-anchor="middle">10&#178;</text>
<text x="236.6" y="277.2" font-size="3.2" fill="#777" text-anchor="middle">10&#178;</text>
<line x1="139.20" y1="168.60" x2="139.20" y2="256.60" stroke="#333" stroke-width="0.8"/>
<path d="M138.30,169.60 L139.20,167.40 L140.10,169.60Z" fill="#333"/>
<text transform="translate(140.90,269.10) rotate(-90)" x="0" y="0" font-size="7.12" font-weight="bold" fill="#000" stroke="#000" stroke-width="0.21" text-anchor="middle" textLength="21.90" lengthAdjust="spacingAndGlyphs">Count</text>
<text x="152.25" y="285.60" font-size="7.82" font-weight="bold" fill="#000" stroke="#000" stroke-width="0.23" text-anchor="middle" textLength="19.45" lengthAdjust="spacingAndGlyphs">CD25</text>
<line x1="164.90" y1="282.20" x2="251.10" y2="282.20" stroke="#333" stroke-width="0.8"/>
<path d="M250.40,281.30 L252.60,282.20 L250.40,283.10Z" fill="#333"/>
<rect x="278.50" y="166.50" width="104.00" height="105.00" fill="none" stroke="#8C8C8C" stroke-width="1.0"/>
<line x1="278.50" y1="264.52" x2="276.90" y2="264.52" stroke="#555" stroke-width="0.6"/>
<line x1="278.50" y1="257.55" x2="276.90" y2="257.55" stroke="#555" stroke-width="0.6"/>
<line x1="278.50" y1="250.57" x2="276.90" y2="250.57" stroke="#555" stroke-width="0.6"/>
<line x1="278.50" y1="243.60" x2="276.90" y2="243.60" stroke="#555" stroke-width="0.6"/>
<line x1="278.50" y1="236.62" x2="276.90" y2="236.62" stroke="#555" stroke-width="0.6"/>
<line x1="278.50" y1="229.65" x2="276.90" y2="229.65" stroke="#555" stroke-width="0.6"/>
<line x1="278.50" y1="222.68" x2="276.90" y2="222.68" stroke="#555" stroke-width="0.6"/>
<line x1="278.50" y1="215.70" x2="276.90" y2="215.70" stroke="#555" stroke-width="0.6"/>
<line x1="278.50" y1="208.72" x2="276.90" y2="208.72" stroke="#555" stroke-width="0.6"/>
<line x1="278.50" y1="201.75" x2="276.90" y2="201.75" stroke="#555" stroke-width="0.6"/>
<line x1="278.50" y1="194.77" x2="276.90" y2="194.77" stroke="#555" stroke-width="0.6"/>
<line x1="278.50" y1="187.80" x2="276.90" y2="187.80" stroke="#555" stroke-width="0.6"/>
<line x1="278.50" y1="180.82" x2="276.90" y2="180.82" stroke="#555" stroke-width="0.6"/>
<line x1="278.50" y1="173.85" x2="276.90" y2="173.85" stroke="#555" stroke-width="0.6"/>
<line x1="281.50" y1="271.50" x2="281.50" y2="273.30" stroke="#555" stroke-width="0.55"/>
<line x1="283.72" y1="271.50" x2="283.72" y2="272.50" stroke="#555" stroke-width="0.55"/>
<line x1="285.94" y1="271.50" x2="285.94" y2="272.50" stroke="#555" stroke-width="0.55"/>
<line x1="288.17" y1="271.50" x2="288.17" y2="272.50" stroke="#555" stroke-width="0.55"/>
<line x1="290.39" y1="271.50" x2="290.39" y2="272.50" stroke="#555" stroke-width="0.55"/>
<line x1="292.61" y1="271.50" x2="292.61" y2="273.30" stroke="#555" stroke-width="0.55"/>
<line x1="294.83" y1="271.50" x2="294.83" y2="272.50" stroke="#555" stroke-width="0.55"/>
<line x1="297.06" y1="271.50" x2="297.06" y2="272.50" stroke="#555" stroke-width="0.55"/>
<line x1="299.28" y1="271.50" x2="299.28" y2="272.50" stroke="#555" stroke-width="0.55"/>
<line x1="301.50" y1="271.50" x2="301.50" y2="272.50" stroke="#555" stroke-width="0.55"/>
<line x1="303.72" y1="271.50" x2="303.72" y2="273.30" stroke="#555" stroke-width="0.55"/>
<line x1="305.94" y1="271.50" x2="305.94" y2="272.50" stroke="#555" stroke-width="0.55"/>
<line x1="308.17" y1="271.50" x2="308.17" y2="272.50" stroke="#555" stroke-width="0.55"/>
<line x1="310.39" y1="271.50" x2="310.39" y2="272.50" stroke="#555" stroke-width="0.55"/>
<line x1="312.61" y1="271.50" x2="312.61" y2="272.50" stroke="#555" stroke-width="0.55"/>
<line x1="314.83" y1="271.50" x2="314.83" y2="273.30" stroke="#555" stroke-width="0.55"/>
<line x1="317.06" y1="271.50" x2="317.06" y2="272.50" stroke="#555" stroke-width="0.55"/>
<line x1="319.28" y1="271.50" x2="319.28" y2="272.50" stroke="#555" stroke-width="0.55"/>
<line x1="321.50" y1="271.50" x2="321.50" y2="272.50" stroke="#555" stroke-width="0.55"/>
<line x1="323.72" y1="271.50" x2="323.72" y2="272.50" stroke="#555" stroke-width="0.55"/>
<line x1="325.94" y1="271.50" x2="325.94" y2="273.30" stroke="#555" stroke-width="0.55"/>
<line x1="328.17" y1="271.50" x2="328.17" y2="272.50" stroke="#555" stroke-width="0.55"/>
<line x1="330.39" y1="271.50" x2="330.39" y2="272.50" stroke="#555" stroke-width="0.55"/>
<line x1="332.61" y1="271.50" x2="332.61" y2="272.50" stroke="#555" stroke-width="0.55"/>
<line x1="334.83" y1="271.50" x2="334.83" y2="272.50" stroke="#555" stroke-width="0.55"/>
<line x1="337.06" y1="271.50" x2="337.06" y2="273.30" stroke="#555" stroke-width="0.55"/>
<line x1="339.28" y1="271.50" x2="339.28" y2="272.50" stroke="#555" stroke-width="0.55"/>
<line x1="341.50" y1="271.50" x2="341.50" y2="272.50" stroke="#555" stroke-width="0.55"/>
<line x1="343.72" y1="271.50" x2="343.72" y2="272.50" stroke="#555" stroke-width="0.55"/>
<line x1="345.94" y1="271.50" x2="345.94" y2="272.50" stroke="#555" stroke-width="0.55"/>
<line x1="348.17" y1="271.50" x2="348.17" y2="273.30" stroke="#555" stroke-width="0.55"/>
<line x1="350.39" y1="271.50" x2="350.39" y2="272.50" stroke="#555" stroke-width="0.55"/>
<line x1="352.61" y1="271.50" x2="352.61" y2="272.50" stroke="#555" stroke-width="0.55"/>
<line x1="354.83" y1="271.50" x2="354.83" y2="272.50" stroke="#555" stroke-width="0.55"/>
<line x1="357.06" y1="271.50" x2="357.06" y2="272.50" stroke="#555" stroke-width="0.55"/>
<line x1="359.28" y1="271.50" x2="359.28" y2="273.30" stroke="#555" stroke-width="0.55"/>
<line x1="361.50" y1="271.50" x2="361.50" y2="272.50" stroke="#555" stroke-width="0.55"/>
<line x1="363.72" y1="271.50" x2="363.72" y2="272.50" stroke="#555" stroke-width="0.55"/>
<line x1="365.94" y1="271.50" x2="365.94" y2="272.50" stroke="#555" stroke-width="0.55"/>
<line x1="368.17" y1="271.50" x2="368.17" y2="272.50" stroke="#555" stroke-width="0.55"/>
<line x1="370.39" y1="271.50" x2="370.39" y2="273.30" stroke="#555" stroke-width="0.55"/>
<line x1="372.61" y1="271.50" x2="372.61" y2="272.50" stroke="#555" stroke-width="0.55"/>
<line x1="374.83" y1="271.50" x2="374.83" y2="272.50" stroke="#555" stroke-width="0.55"/>
<line x1="377.06" y1="271.50" x2="377.06" y2="272.50" stroke="#555" stroke-width="0.55"/>
<line x1="379.28" y1="271.50" x2="379.28" y2="272.50" stroke="#555" stroke-width="0.55"/>
<line x1="381.50" y1="271.50" x2="381.50" y2="273.30" stroke="#555" stroke-width="0.55"/>
<path d="M288.60,271.30 L289.30,268.30 L290.30,263.50 L291.10,251.90 L292.20,223.00 L293.60,194.20 L294.50,181.70 L295.50,194.20 L296.80,213.50 L298.40,238.50 L299.90,255.80 L301.30,261.50 L303.20,265.40 L306.00,268.30 L310.00,269.00 L318.00,269.20 L323.00,269.00 L330.00,269.60 L345.00,269.80 L360.00,270.20 L372.00,270.50 L375.00,271.30Z" fill="#2B44AC" fill-opacity="0.97"/>
<path d="M296.00,271.30 L297.00,265.50 L298.00,268.00 L299.00,271.30Z" fill="#B04080" fill-opacity="0.5"/>
<line x1="324.60" y1="223.00" x2="366.10" y2="223.00" stroke="#9CC3C6" stroke-width="1.1"/>
<line x1="324.60" y1="221.10" x2="324.60" y2="224.90" stroke="#9CC3C6" stroke-width="0.9"/>
<line x1="366.10" y1="221.10" x2="366.10" y2="224.90" stroke="#9CC3C6" stroke-width="0.9"/>
<text x="348.55" y="202.30" font-size="10.75" font-weight="bold" fill="#000" stroke="#000" stroke-width="0.32" text-anchor="middle" textLength="30.25" lengthAdjust="spacingAndGlyphs">CD25</text>
<text x="348.45" y="216.10" font-size="11.87" font-weight="bold" fill="#000" stroke="#000" stroke-width="0.36" text-anchor="middle" textLength="26.93" lengthAdjust="spacingAndGlyphs">5.4%</text>
<text x="289.0" y="277.0" font-size="3.2" fill="#777" text-anchor="middle">10&#178;</text>
<text x="314.5" y="277.0" font-size="3.2" fill="#777" text-anchor="middle">10&#178;</text>
<text x="341.0" y="277.0" font-size="3.2" fill="#777" text-anchor="middle">10&#178;</text>
<text x="368.0" y="277.0" font-size="3.2" fill="#777" text-anchor="middle">10&#178;</text>
<line x1="266.50" y1="168.10" x2="266.50" y2="252.50" stroke="#333" stroke-width="0.8"/>
<path d="M265.60,169.10 L266.50,166.90 L267.40,169.10Z" fill="#333"/>
<text transform="translate(270.20,267.10) rotate(-90)" x="0" y="0" font-size="8.10" font-weight="bold" fill="#000" stroke="#000" stroke-width="0.24" text-anchor="middle" textLength="22.37" lengthAdjust="spacingAndGlyphs">Count</text>
<text x="281.85" y="285.00" font-size="7.68" font-weight="bold" fill="#000" stroke="#000" stroke-width="0.23" text-anchor="middle" textLength="19.44" lengthAdjust="spacingAndGlyphs">CD25</text>
<line x1="294.20" y1="281.90" x2="381.50" y2="281.90" stroke="#333" stroke-width="0.8"/>
<path d="M380.80,281.00 L383.00,281.90 L380.80,282.80Z" fill="#333"/>
<text x="402.65" y="13.8" font-size="8.6" font-weight="bold" fill="#000" stroke="#000" stroke-width="0.4" text-anchor="middle" textLength="5.2" lengthAdjust="spacingAndGlyphs">B</text>
<line x1="425.60" y1="58.10" x2="425.60" y2="111.50" stroke="#D0D0D0" stroke-width="0.7"/>
<line x1="425.60" y1="111.50" x2="547.20" y2="111.50" stroke="#C8C8C8" stroke-width="0.9"/>
<text x="423.00" y="61.10" font-size="4.6" fill="#707070" text-anchor="end">100</text>
<text x="423.00" y="87.50" font-size="4.6" fill="#707070" text-anchor="end">50</text>
<text x="423.00" y="113.90" font-size="4.6" fill="#707070" text-anchor="end">0</text>
<rect x="429.60" y="107.28" width="4.40" height="4.22" fill="#4472C4" stroke="none" stroke-width="1"/>
<line x1="431.78" y1="99.88" x2="431.78" y2="107.28" stroke="#BDBDBD" stroke-width="0.5"/>
<line x1="430.98" y1="99.88" x2="432.58" y2="99.88" stroke="#BDBDBD" stroke-width="0.4"/>
<rect x="433.95" y="63.45" width="4.40" height="48.05" fill="#ED7D31" stroke="none" stroke-width="1"/>
<line x1="436.13" y1="58.17" x2="436.13" y2="63.45" stroke="#BDBDBD" stroke-width="0.5"/>
<line x1="435.33" y1="58.17" x2="436.93" y2="58.17" stroke="#BDBDBD" stroke-width="0.4"/>
<rect x="438.30" y="85.63" width="4.40" height="25.87" fill="#A5A5A5" stroke="none" stroke-width="1"/>
<line x1="440.48" y1="58.17" x2="440.48" y2="85.63" stroke="#BDBDBD" stroke-width="0.5"/>
<line x1="439.68" y1="58.17" x2="441.28" y2="58.17" stroke="#BDBDBD" stroke-width="0.4"/>
<rect x="449.95" y="60.28" width="4.40" height="51.22" fill="#4472C4" stroke="none" stroke-width="1"/>
<rect x="454.30" y="59.76" width="4.40" height="51.74" fill="#ED7D31" stroke="none" stroke-width="1"/>
<line x1="456.48" y1="58.70" x2="456.48" y2="59.76" stroke="#BDBDBD" stroke-width="0.5"/>
<line x1="455.68" y1="58.70" x2="457.28" y2="58.70" stroke="#BDBDBD" stroke-width="0.4"/>
<rect x="458.65" y="66.62" width="4.40" height="44.88" fill="#A5A5A5" stroke="none" stroke-width="1"/>
<line x1="460.82" y1="58.17" x2="460.82" y2="66.62" stroke="#BDBDBD" stroke-width="0.5"/>
<line x1="460.02" y1="58.17" x2="461.62" y2="58.17" stroke="#BDBDBD" stroke-width="0.4"/>
<rect x="470.40" y="103.58" width="4.40" height="7.92" fill="#4472C4" stroke="none" stroke-width="1"/>
<line x1="472.57" y1="91.44" x2="472.57" y2="103.58" stroke="#BDBDBD" stroke-width="0.5"/>
<line x1="471.77" y1="91.44" x2="473.38" y2="91.44" stroke="#BDBDBD" stroke-width="0.4"/>
<rect x="491.00" y="58.70" width="4.40" height="52.80" fill="#4472C4" stroke="none" stroke-width="1"/>
<rect x="495.35" y="58.70" width="4.40" height="52.80" fill="#ED7D31" stroke="none" stroke-width="1"/>
<rect x="499.70" y="58.70" width="4.40" height="52.80" fill="#A5A5A5" stroke="none" stroke-width="1"/>
<rect x="511.70" y="58.70" width="4.40" height="52.80" fill="#4472C4" stroke="none" stroke-width="1"/>
<rect x="516.05" y="58.70" width="4.40" height="52.80" fill="#ED7D31" stroke="none" stroke-width="1"/>
<rect x="520.40" y="58.70" width="4.40" height="52.80" fill="#A5A5A5" stroke="none" stroke-width="1"/>
<line x1="428.40" y1="184.10" x2="428.40" y2="243.00" stroke="#D0D0D0" stroke-width="0.7"/>
<line x1="428.40" y1="243.00" x2="549.00" y2="243.00" stroke="#C8C8C8" stroke-width="0.9"/>
<text x="426.70" y="187.10" font-size="4.6" fill="#707070" text-anchor="end">100</text>
<text x="426.70" y="216.25" font-size="4.6" fill="#707070" text-anchor="end">50</text>
<text x="426.70" y="245.40" font-size="4.6" fill="#707070" text-anchor="end">0</text>
<rect x="436.10" y="238.34" width="4.35" height="4.66" fill="#ED7D31" stroke="none" stroke-width="1"/>
<line x1="438.25" y1="231.92" x2="438.25" y2="238.34" stroke="#BDBDBD" stroke-width="0.5"/>
<line x1="437.45" y1="231.92" x2="439.05" y2="231.92" stroke="#BDBDBD" stroke-width="0.4"/>
<rect x="440.40" y="225.80" width="4.35" height="17.20" fill="#A5A5A5" stroke="none" stroke-width="1"/>
<line x1="442.55" y1="201.61" x2="442.55" y2="225.80" stroke="#BDBDBD" stroke-width="0.5"/>
<line x1="441.75" y1="201.61" x2="443.35" y2="201.61" stroke="#BDBDBD" stroke-width="0.4"/>
<rect x="451.45" y="186.16" width="4.35" height="56.84" fill="#4472C4" stroke="none" stroke-width="1"/>
<rect x="455.75" y="184.70" width="4.35" height="58.30" fill="#ED7D31" stroke="none" stroke-width="1"/>
<rect x="460.05" y="184.70" width="4.35" height="58.30" fill="#A5A5A5" stroke="none" stroke-width="1"/>
<rect x="491.10" y="184.70" width="4.35" height="58.30" fill="#4472C4" stroke="none" stroke-width="1"/>
<rect x="495.40" y="184.70" width="4.35" height="58.30" fill="#ED7D31" stroke="none" stroke-width="1"/>
<rect x="499.70" y="184.70" width="4.35" height="58.30" fill="#A5A5A5" stroke="none" stroke-width="1"/>
<rect x="510.65" y="184.70" width="4.35" height="58.30" fill="#4472C4" stroke="none" stroke-width="1"/>
<rect x="514.95" y="184.70" width="4.35" height="58.30" fill="#ED7D31" stroke="none" stroke-width="1"/>
<rect x="519.25" y="184.70" width="4.35" height="58.30" fill="#A5A5A5" stroke="none" stroke-width="1"/>
<text x="448.15" y="46.10" font-size="7.54" font-weight="bold" fill="#000" stroke="#000" stroke-width="0.23" text-anchor="middle" textLength="18.43" lengthAdjust="spacingAndGlyphs">Day2</text>
<text x="488.05" y="46.40" font-size="7.96" font-weight="bold" fill="#000" stroke="#000" stroke-width="0.24" text-anchor="middle" textLength="18.66" lengthAdjust="spacingAndGlyphs">Day7</text>
<text x="520.00" y="46.20" font-size="8.10" font-weight="bold" fill="#000" stroke="#000" stroke-width="0.24" text-anchor="middle" textLength="22.17" lengthAdjust="spacingAndGlyphs">Day14</text>
<line x1="429.20" y1="52.00" x2="466.00" y2="52.00" stroke="#C8C8C8" stroke-width="0.7"/>
<line x1="429.20" y1="52.00" x2="429.20" y2="53.20" stroke="#C8C8C8" stroke-width="0.6"/>
<line x1="466.00" y1="52.00" x2="466.00" y2="53.20" stroke="#C8C8C8" stroke-width="0.6"/>
<line x1="447.60" y1="52.00" x2="447.60" y2="51.00" stroke="#C8C8C8" stroke-width="0.6"/>
<line x1="468.60" y1="52.00" x2="505.20" y2="52.00" stroke="#C8C8C8" stroke-width="0.7"/>
<line x1="468.60" y1="52.00" x2="468.60" y2="53.20" stroke="#C8C8C8" stroke-width="0.6"/>
<line x1="505.20" y1="52.00" x2="505.20" y2="53.20" stroke="#C8C8C8" stroke-width="0.6"/>
<line x1="486.90" y1="52.00" x2="486.90" y2="51.00" stroke="#C8C8C8" stroke-width="0.6"/>
<line x1="510.00" y1="52.00" x2="529.10" y2="52.00" stroke="#C8C8C8" stroke-width="0.7"/>
<line x1="510.00" y1="52.00" x2="510.00" y2="53.20" stroke="#C8C8C8" stroke-width="0.6"/>
<line x1="529.10" y1="52.00" x2="529.10" y2="53.20" stroke="#C8C8C8" stroke-width="0.6"/>
<line x1="519.55" y1="52.00" x2="519.55" y2="51.00" stroke="#C8C8C8" stroke-width="0.6"/>
<text x="449.15" y="176.30" font-size="7.26" font-weight="bold" fill="#000" stroke="#000" stroke-width="0.22" text-anchor="middle" textLength="17.41" lengthAdjust="spacingAndGlyphs">Day2</text>
<text x="489.20" y="176.40" font-size="7.96" font-weight="bold" fill="#000" stroke="#000" stroke-width="0.24" text-anchor="middle" textLength="17.56" lengthAdjust="spacingAndGlyphs">Day7</text>
<text x="521.15" y="176.20" font-size="8.38" font-weight="bold" fill="#000" stroke="#000" stroke-width="0.25" text-anchor="middle" textLength="22.69" lengthAdjust="spacingAndGlyphs">Day14</text>
<line x1="431.50" y1="181.00" x2="467.00" y2="181.00" stroke="#C8C8C8" stroke-width="0.7"/>
<line x1="431.50" y1="181.00" x2="431.50" y2="182.20" stroke="#C8C8C8" stroke-width="0.6"/>
<line x1="467.00" y1="181.00" x2="467.00" y2="182.20" stroke="#C8C8C8" stroke-width="0.6"/>
<line x1="449.25" y1="181.00" x2="449.25" y2="180.00" stroke="#C8C8C8" stroke-width="0.6"/>
<line x1="470.70" y1="181.00" x2="507.50" y2="181.00" stroke="#C8C8C8" stroke-width="0.7"/>
<line x1="470.70" y1="181.00" x2="470.70" y2="182.20" stroke="#C8C8C8" stroke-width="0.6"/>
<line x1="507.50" y1="181.00" x2="507.50" y2="182.20" stroke="#C8C8C8" stroke-width="0.6"/>
<line x1="489.10" y1="181.00" x2="489.10" y2="180.00" stroke="#C8C8C8" stroke-width="0.6"/>
<line x1="511.00" y1="181.00" x2="530.80" y2="181.00" stroke="#C8C8C8" stroke-width="0.7"/>
<line x1="511.00" y1="181.00" x2="511.00" y2="182.20" stroke="#C8C8C8" stroke-width="0.6"/>
<line x1="530.80" y1="181.00" x2="530.80" y2="182.20" stroke="#C8C8C8" stroke-width="0.6"/>
<line x1="520.90" y1="181.00" x2="520.90" y2="180.00" stroke="#C8C8C8" stroke-width="0.6"/>
<rect x="530.00" y="64.50" width="2.40" height="3.00" fill="#4472C4" stroke="none" stroke-width="1"/>
<text x="538.15" y="68.20" font-size="6.28" font-weight="bold" fill="#000" stroke="#000" stroke-width="0.19" text-anchor="middle" textLength="8.14" lengthAdjust="spacingAndGlyphs">1:1</text>
<rect x="530.00" y="72.50" width="2.40" height="3.00" fill="#ED7D31" stroke="none" stroke-width="1"/>
<text x="538.15" y="76.20" font-size="6.28" font-weight="bold" fill="#000" stroke="#000" stroke-width="0.19" text-anchor="middle" textLength="8.14" lengthAdjust="spacingAndGlyphs">5:1</text>
<rect x="530.00" y="80.30" width="2.40" height="3.00" fill="#A5A5A5" stroke="none" stroke-width="1"/>
<text x="539.15" y="84.00" font-size="6.28" font-weight="bold" fill="#000" stroke="#000" stroke-width="0.19" text-anchor="middle" textLength="10.14" lengthAdjust="spacingAndGlyphs">10:1</text>
<rect x="532.90" y="204.60" width="2.60" height="2.80" fill="#4472C4" stroke="none" stroke-width="1"/>
<text x="540.95" y="208.00" font-size="6.15" font-weight="bold" fill="#000" stroke="#000" stroke-width="0.18" text-anchor="middle" textLength="8.53" lengthAdjust="spacingAndGlyphs">1:1</text>
<text transform="translate(403.10,87.25) rotate(-90)" x="0" y="0" font-size="7.96" font-weight="bold" fill="#000" stroke="#000" stroke-width="0.24" text-anchor="middle" textLength="52.06" lengthAdjust="spacingAndGlyphs">Percentage of</text>
<text transform="translate(412.70,87.25) rotate(-90)" x="0" y="0" font-size="8.10" font-weight="bold" fill="#000" stroke="#000" stroke-width="0.24" text-anchor="middle" textLength="65.87" lengthAdjust="spacingAndGlyphs">CD19+ RAJI killed</text>
<text transform="translate(403.10,211.10) rotate(-90)" x="0" y="0" font-size="7.96" font-weight="bold" fill="#000" stroke="#000" stroke-width="0.24" text-anchor="middle" textLength="51.56" lengthAdjust="spacingAndGlyphs">Percentage of</text>
<text transform="translate(413.00,210.95) rotate(-90)" x="0" y="0" font-size="8.52" font-weight="bold" fill="#000" stroke="#000" stroke-width="0.26" text-anchor="middle" textLength="66.30" lengthAdjust="spacingAndGlyphs">CD19+ RAJI killed</text>
<text transform="translate(423.40,127.90) rotate(-50)" x="0" y="2.22" font-size="6.2" font-weight="bold" fill="#000" stroke="#000" stroke-width="0.2" text-anchor="middle">CAR19BB</text>
<text transform="translate(430.20,131.80) rotate(-50)" x="0" y="2.22" font-size="6.2" font-weight="bold" fill="#000" stroke="#000" stroke-width="0.2" text-anchor="middle">aCD3/aCD28</text>
<text transform="translate(447.00,126.30) rotate(-50)" x="0" y="2.22" font-size="6.2" font-weight="bold" fill="#000" stroke="#000" stroke-width="0.2" text-anchor="middle">CAR1928</text>
<text transform="translate(453.80,130.50) rotate(-50)" x="0" y="2.22" font-size="6.2" font-weight="bold" fill="#000" stroke="#000" stroke-width="0.2" text-anchor="middle">aCD3/aCD28</text>
<text transform="translate(466.50,127.50) rotate(-50)" x="0" y="2.22" font-size="6.2" font-weight="bold" fill="#000" stroke="#000" stroke-width="0.2" text-anchor="middle">CAR19BB</text>
<text transform="translate(473.50,131.50) rotate(-50)" x="0" y="2.22" font-size="6.2" font-weight="bold" fill="#000" stroke="#000" stroke-width="0.2" text-anchor="middle">aCD3/aCD28</text>
<text transform="translate(489.60,127.20) rotate(-50)" x="0" y="2.22" font-size="6.2" font-weight="bold" fill="#000" stroke="#000" stroke-width="0.2" text-anchor="middle">CAR19B28</text>
<text transform="translate(494.60,132.30) rotate(-50)" x="0" y="2.22" font-size="6.2" font-weight="bold" fill="#000" stroke="#000" stroke-width="0.2" text-anchor="middle">aCD3/aCD28</text>
<text transform="translate(511.00,128.10) rotate(-50)" x="0" y="2.22" font-size="6.2" font-weight="bold" fill="#000" stroke="#000" stroke-width="0.2" text-anchor="middle">CAR19BB+</text>
<text transform="translate(516.90,133.00) rotate(-50)" x="0" y="2.22" font-size="6.2" font-weight="bold" fill="#000" stroke="#000" stroke-width="0.2" text-anchor="middle">CAR1928</text>
<text transform="translate(523.50,136.50) rotate(-50)" x="0" y="2.22" font-size="6.2" font-weight="bold" fill="#000" stroke="#000" stroke-width="0.2" text-anchor="middle">aCD3/aCD28</text>
<text transform="translate(428.50,259.40) rotate(-50)" x="0" y="2.22" font-size="6.2" font-weight="bold" fill="#000" stroke="#000" stroke-width="0.2" text-anchor="middle">CAR19BB</text>
<text transform="translate(435.00,263.50) rotate(-50)" x="0" y="2.22" font-size="6.2" font-weight="bold" fill="#000" stroke="#000" stroke-width="0.2" text-anchor="middle">PHA</text>
<text transform="translate(449.10,258.20) rotate(-50)" x="0" y="2.22" font-size="6.2" font-weight="bold" fill="#000" stroke="#000" stroke-width="0.2" text-anchor="middle">CAR1928</text>
<text transform="translate(455.40,262.40) rotate(-50)" x="0" y="2.22" font-size="6.2" font-weight="bold" fill="#000" stroke="#000" stroke-width="0.2" text-anchor="middle">PHA</text>
<text transform="translate(471.10,258.00) rotate(-50)" x="0" y="2.22" font-size="6.2" font-weight="bold" fill="#000" stroke="#000" stroke-width="0.2" text-anchor="middle">CAR19BB</text>
<text transform="translate(477.30,262.40) rotate(-50)" x="0" y="2.22" font-size="6.2" font-weight="bold" fill="#000" stroke="#000" stroke-width="0.2" text-anchor="middle">PHA</text>
<text transform="translate(493.60,258.50) rotate(-50)" x="0" y="2.22" font-size="6.2" font-weight="bold" fill="#000" stroke="#000" stroke-width="0.2" text-anchor="middle">CAR19B28</text>
<text transform="translate(499.40,262.80) rotate(-50)" x="0" y="2.22" font-size="6.2" font-weight="bold" fill="#000" stroke="#000" stroke-width="0.2" text-anchor="middle">PHA</text>
<text transform="translate(513.30,259.70) rotate(-50)" x="0" y="2.22" font-size="6.2" font-weight="bold" fill="#000" stroke="#000" stroke-width="0.2" text-anchor="middle">CAR19BB+</text>
<text transform="translate(519.50,264.00) rotate(-50)" x="0" y="2.22" font-size="6.2" font-weight="bold" fill="#000" stroke="#000" stroke-width="0.2" text-anchor="middle">CAR1928</text>
<text transform="translate(525.20,268.00) rotate(-50)" x="0" y="2.22" font-size="6.2" font-weight="bold" fill="#000" stroke="#000" stroke-width="0.2" text-anchor="middle">PHA</text>
<text x="18.65" y="307.9" font-size="9.2" font-weight="bold" fill="#000" stroke="#000" stroke-width="0.4" text-anchor="middle" textLength="5.3" lengthAdjust="spacingAndGlyphs">C</text>
<line x1="43.80" y1="330.50" x2="43.80" y2="486.30" stroke="#C8C8C8" stroke-width="0.9"/>
<line x1="43.80" y1="486.30" x2="538.00" y2="486.30" stroke="#C8C8C8" stroke-width="0.9"/>
<line x1="41.60" y1="330.50" x2="43.80" y2="330.50" stroke="#C8C8C8" stroke-width="0.7"/>
<text x="37.6" y="332.80" font-size="6.6" fill="#404040" text-anchor="end">100</text>
<line x1="41.60" y1="408.40" x2="43.80" y2="408.40" stroke="#C8C8C8" stroke-width="0.7"/>
<text x="37.6" y="410.70" font-size="6.6" fill="#404040" text-anchor="end">50</text>
<line x1="41.60" y1="486.30" x2="43.80" y2="486.30" stroke="#C8C8C8" stroke-width="0.7"/>
<text x="37.6" y="488.60" font-size="6.6" fill="#404040" text-anchor="end">0</text>
<text transform="translate(23.40,401.50) rotate(-90)" x="0" y="0" font-size="10.34" font-weight="bold" fill="#000" stroke="#000" stroke-width="0.31" text-anchor="middle" textLength="93.72" lengthAdjust="spacingAndGlyphs">Viable CD19+ RAJI%</text>
<rect x="51.51" y="450.93" width="10.12" height="35.37" fill="#4472C4" stroke="none" stroke-width="1"/>
<rect x="61.58" y="474.62" width="10.12" height="11.69" fill="#ED7D31" stroke="none" stroke-width="1"/>
<rect x="71.65" y="451.71" width="10.12" height="34.59" fill="#A5A5A5" stroke="none" stroke-width="1"/>
<rect x="81.72" y="477.73" width="10.12" height="8.57" fill="#548235" stroke="none" stroke-width="1"/>
<line x1="56.55" y1="440.96" x2="56.55" y2="450.93" stroke="#A6A6A6" stroke-width="0.55"/>
<line x1="55.55" y1="440.96" x2="57.55" y2="440.96" stroke="#A6A6A6" stroke-width="0.5"/>
<line x1="66.62" y1="473.99" x2="66.62" y2="474.62" stroke="#A6A6A6" stroke-width="0.55"/>
<line x1="65.62" y1="473.99" x2="67.62" y2="473.99" stroke="#A6A6A6" stroke-width="0.5"/>
<line x1="76.69" y1="426.47" x2="76.69" y2="451.71" stroke="#A6A6A6" stroke-width="0.55"/>
<line x1="75.69" y1="426.47" x2="77.69" y2="426.47" stroke="#A6A6A6" stroke-width="0.5"/>
<line x1="86.75" y1="476.95" x2="86.75" y2="477.73" stroke="#A6A6A6" stroke-width="0.55"/>
<line x1="85.75" y1="476.95" x2="87.75" y2="476.95" stroke="#A6A6A6" stroke-width="0.5"/>
<rect x="106.44" y="413.70" width="10.12" height="72.60" fill="#4472C4" stroke="none" stroke-width="1"/>
<rect x="116.51" y="436.44" width="10.12" height="49.86" fill="#ED7D31" stroke="none" stroke-width="1"/>
<rect x="126.58" y="440.65" width="10.12" height="45.65" fill="#A5A5A5" stroke="none" stroke-width="1"/>
<rect x="136.65" y="474.62" width="10.12" height="11.69" fill="#548235" stroke="none" stroke-width="1"/>
<line x1="111.48" y1="401.08" x2="111.48" y2="413.70" stroke="#A6A6A6" stroke-width="0.55"/>
<line x1="110.48" y1="401.08" x2="112.48" y2="401.08" stroke="#A6A6A6" stroke-width="0.5"/>
<line x1="121.55" y1="434.89" x2="121.55" y2="436.44" stroke="#A6A6A6" stroke-width="0.55"/>
<line x1="120.55" y1="434.89" x2="122.55" y2="434.89" stroke="#A6A6A6" stroke-width="0.5"/>
<line x1="131.62" y1="395.78" x2="131.62" y2="440.65" stroke="#A6A6A6" stroke-width="0.55"/>
<line x1="130.62" y1="395.78" x2="132.62" y2="395.78" stroke="#A6A6A6" stroke-width="0.5"/>
<line x1="141.69" y1="473.06" x2="141.69" y2="474.62" stroke="#A6A6A6" stroke-width="0.55"/>
<line x1="140.69" y1="473.06" x2="142.69" y2="473.06" stroke="#A6A6A6" stroke-width="0.5"/>
<rect x="161.37" y="337.98" width="10.12" height="148.32" fill="#4472C4" stroke="none" stroke-width="1"/>
<rect x="171.44" y="338.29" width="10.12" height="148.01" fill="#ED7D31" stroke="none" stroke-width="1"/>
<rect x="181.51" y="337.04" width="10.12" height="149.26" fill="#A5A5A5" stroke="none" stroke-width="1"/>
<rect x="191.58" y="338.91" width="10.12" height="147.39" fill="#548235" stroke="none" stroke-width="1"/>
<line x1="166.41" y1="336.73" x2="166.41" y2="337.98" stroke="#A6A6A6" stroke-width="0.55"/>
<line x1="165.41" y1="336.73" x2="167.41" y2="336.73" stroke="#A6A6A6" stroke-width="0.5"/>
<line x1="176.47" y1="337.20" x2="176.47" y2="338.29" stroke="#A6A6A6" stroke-width="0.55"/>
<line x1="175.47" y1="337.20" x2="177.47" y2="337.20" stroke="#A6A6A6" stroke-width="0.5"/>
<line x1="186.54" y1="335.17" x2="186.54" y2="337.04" stroke="#A6A6A6" stroke-width="0.55"/>
<line x1="185.54" y1="335.17" x2="187.54" y2="335.17" stroke="#A6A6A6" stroke-width="0.5"/>
<line x1="196.62" y1="337.98" x2="196.62" y2="338.91" stroke="#A6A6A6" stroke-width="0.55"/>
<line x1="195.62" y1="337.98" x2="197.62" y2="337.98" stroke="#A6A6A6" stroke-width="0.5"/>
<rect x="216.30" y="477.26" width="10.12" height="9.04" fill="#4472C4" stroke="none" stroke-width="1"/>
<rect x="226.37" y="483.34" width="10.12" height="2.96" fill="#ED7D31" stroke="none" stroke-width="1"/>
<rect x="236.44" y="478.04" width="10.12" height="8.26" fill="#A5A5A5" stroke="none" stroke-width="1"/>
<rect x="246.51" y="484.27" width="10.12" height="2.03" fill="#548235" stroke="none" stroke-width="1"/>
<line x1="221.34" y1="472.75" x2="221.34" y2="477.26" stroke="#A6A6A6" stroke-width="0.55"/>
<line x1="220.34" y1="472.75" x2="222.34" y2="472.75" stroke="#A6A6A6" stroke-width="0.5"/>
<line x1="231.41" y1="482.72" x2="231.41" y2="483.34" stroke="#A6A6A6" stroke-width="0.55"/>
<line x1="230.41" y1="482.72" x2="232.41" y2="482.72" stroke="#A6A6A6" stroke-width="0.5"/>
<line x1="241.47" y1="473.99" x2="241.47" y2="478.04" stroke="#A6A6A6" stroke-width="0.55"/>
<line x1="240.47" y1="473.99" x2="242.47" y2="473.99" stroke="#A6A6A6" stroke-width="0.5"/>
<line x1="251.55" y1="483.81" x2="251.55" y2="484.27" stroke="#A6A6A6" stroke-width="0.55"/>
<line x1="250.55" y1="483.81" x2="252.55" y2="483.81" stroke="#A6A6A6" stroke-width="0.5"/>
<rect x="271.23" y="468.38" width="10.12" height="17.92" fill="#4472C4" stroke="none" stroke-width="1"/>
<rect x="281.30" y="482.41" width="10.12" height="3.90" fill="#ED7D31" stroke="none" stroke-width="1"/>
<rect x="291.37" y="475.86" width="10.12" height="10.44" fill="#A5A5A5" stroke="none" stroke-width="1"/>
<rect x="301.44" y="485.52" width="10.12" height="0.78" fill="#548235" stroke="none" stroke-width="1"/>
<line x1="276.27" y1="457.48" x2="276.27" y2="468.38" stroke="#A6A6A6" stroke-width="0.55"/>
<line x1="275.27" y1="457.48" x2="277.27" y2="457.48" stroke="#A6A6A6" stroke-width="0.5"/>
<line x1="286.34" y1="481.63" x2="286.34" y2="482.41" stroke="#A6A6A6" stroke-width="0.55"/>
<line x1="285.34" y1="481.63" x2="287.34" y2="481.63" stroke="#A6A6A6" stroke-width="0.5"/>
<line x1="296.41" y1="472.43" x2="296.41" y2="475.86" stroke="#A6A6A6" stroke-width="0.55"/>
<line x1="295.41" y1="472.43" x2="297.41" y2="472.43" stroke="#A6A6A6" stroke-width="0.5"/>
<line x1="306.48" y1="485.05" x2="306.48" y2="485.52" stroke="#A6A6A6" stroke-width="0.55"/>
<line x1="305.48" y1="485.05" x2="307.48" y2="485.05" stroke="#A6A6A6" stroke-width="0.5"/>
<rect x="326.16" y="342.19" width="10.12" height="144.12" fill="#4472C4" stroke="none" stroke-width="1"/>
<rect x="336.23" y="346.08" width="10.12" height="140.22" fill="#ED7D31" stroke="none" stroke-width="1"/>
<rect x="346.30" y="342.19" width="10.12" height="144.12" fill="#A5A5A5" stroke="none" stroke-width="1"/>
<rect x="356.37" y="372.10" width="10.12" height="114.20" fill="#548235" stroke="none" stroke-width="1"/>
<line x1="331.19" y1="339.85" x2="331.19" y2="342.19" stroke="#A6A6A6" stroke-width="0.55"/>
<line x1="330.19" y1="339.85" x2="332.19" y2="339.85" stroke="#A6A6A6" stroke-width="0.5"/>
<line x1="341.26" y1="344.52" x2="341.26" y2="346.08" stroke="#A6A6A6" stroke-width="0.55"/>
<line x1="340.26" y1="344.52" x2="342.26" y2="344.52" stroke="#A6A6A6" stroke-width="0.5"/>
<line x1="351.33" y1="339.07" x2="351.33" y2="342.19" stroke="#A6A6A6" stroke-width="0.55"/>
<line x1="350.33" y1="339.07" x2="352.33" y2="339.07" stroke="#A6A6A6" stroke-width="0.5"/>
<line x1="361.40" y1="360.10" x2="361.40" y2="372.10" stroke="#A6A6A6" stroke-width="0.55"/>
<line x1="360.40" y1="360.10" x2="362.40" y2="360.10" stroke="#A6A6A6" stroke-width="0.5"/>
<rect x="381.09" y="480.54" width="10.12" height="5.76" fill="#4472C4" stroke="none" stroke-width="1"/>
<rect x="391.16" y="484.90" width="10.12" height="1.40" fill="#ED7D31" stroke="none" stroke-width="1"/>
<rect x="401.23" y="483.03" width="10.12" height="3.27" fill="#A5A5A5" stroke="none" stroke-width="1"/>
<rect x="411.30" y="485.37" width="10.12" height="0.93" fill="#548235" stroke="none" stroke-width="1"/>
<line x1="386.13" y1="475.71" x2="386.13" y2="480.54" stroke="#A6A6A6" stroke-width="0.55"/>
<line x1="385.13" y1="475.71" x2="387.13" y2="475.71" stroke="#A6A6A6" stroke-width="0.5"/>
<line x1="396.20" y1="484.43" x2="396.20" y2="484.90" stroke="#A6A6A6" stroke-width="0.55"/>
<line x1="395.20" y1="484.43" x2="397.20" y2="484.43" stroke="#A6A6A6" stroke-width="0.5"/>
<line x1="406.27" y1="482.09" x2="406.27" y2="483.03" stroke="#A6A6A6" stroke-width="0.55"/>
<line x1="405.27" y1="482.09" x2="407.27" y2="482.09" stroke="#A6A6A6" stroke-width="0.5"/>
<line x1="416.34" y1="485.05" x2="416.34" y2="485.37" stroke="#A6A6A6" stroke-width="0.55"/>
<line x1="415.34" y1="485.05" x2="417.34" y2="485.05" stroke="#A6A6A6" stroke-width="0.5"/>
<rect x="436.02" y="477.58" width="10.12" height="8.72" fill="#4472C4" stroke="none" stroke-width="1"/>
<rect x="446.09" y="485.37" width="10.12" height="0.93" fill="#ED7D31" stroke="none" stroke-width="1"/>
<rect x="456.16" y="483.96" width="10.12" height="2.34" fill="#A5A5A5" stroke="none" stroke-width="1"/>
<rect x="466.23" y="485.99" width="10.12" height="0.31" fill="#548235" stroke="none" stroke-width="1"/>
<line x1="441.06" y1="473.37" x2="441.06" y2="477.58" stroke="#A6A6A6" stroke-width="0.55"/>
<line x1="440.06" y1="473.37" x2="442.06" y2="473.37" stroke="#A6A6A6" stroke-width="0.5"/>
<line x1="451.12" y1="484.90" x2="451.12" y2="485.37" stroke="#A6A6A6" stroke-width="0.55"/>
<line x1="450.12" y1="484.90" x2="452.12" y2="484.90" stroke="#A6A6A6" stroke-width="0.5"/>
<line x1="461.19" y1="482.87" x2="461.19" y2="483.96" stroke="#A6A6A6" stroke-width="0.55"/>
<line x1="460.19" y1="482.87" x2="462.19" y2="482.87" stroke="#A6A6A6" stroke-width="0.5"/>
<line x1="471.26" y1="485.83" x2="471.26" y2="485.99" stroke="#A6A6A6" stroke-width="0.55"/>
<line x1="470.26" y1="485.83" x2="472.26" y2="485.83" stroke="#A6A6A6" stroke-width="0.5"/>
<rect x="490.95" y="346.55" width="10.12" height="139.75" fill="#4472C4" stroke="none" stroke-width="1"/>
<rect x="501.02" y="369.45" width="10.12" height="116.85" fill="#ED7D31" stroke="none" stroke-width="1"/>
<rect x="511.09" y="354.80" width="10.12" height="131.50" fill="#A5A5A5" stroke="none" stroke-width="1"/>
<rect x="521.16" y="438.47" width="10.12" height="47.83" fill="#548235" stroke="none" stroke-width="1"/>
<line x1="495.99" y1="344.52" x2="495.99" y2="346.55" stroke="#A6A6A6" stroke-width="0.55"/>
<line x1="494.99" y1="344.52" x2="496.99" y2="344.52" stroke="#A6A6A6" stroke-width="0.5"/>
<line x1="506.06" y1="362.75" x2="506.06" y2="369.45" stroke="#A6A6A6" stroke-width="0.55"/>
<line x1="505.06" y1="362.75" x2="507.06" y2="362.75" stroke="#A6A6A6" stroke-width="0.5"/>
<line x1="516.12" y1="348.42" x2="516.12" y2="354.80" stroke="#A6A6A6" stroke-width="0.55"/>
<line x1="515.12" y1="348.42" x2="517.12" y2="348.42" stroke="#A6A6A6" stroke-width="0.5"/>
<line x1="526.20" y1="433.80" x2="526.20" y2="438.47" stroke="#A6A6A6" stroke-width="0.55"/>
<line x1="525.20" y1="433.80" x2="527.20" y2="433.80" stroke="#A6A6A6" stroke-width="0.5"/>
<text transform="translate(74.85,494.00) rotate(-52)" font-size="8.2" font-weight="bold" fill="#000" stroke="#000" stroke-width="0.25" text-anchor="end">Day0</text>
<text transform="translate(126.93,494.00) rotate(-52)" font-size="8.2" font-weight="bold" fill="#000" stroke="#000" stroke-width="0.25" text-anchor="end">Day2</text>
<text transform="translate(182.26,494.00) rotate(-52)" font-size="8.2" font-weight="bold" fill="#000" stroke="#000" stroke-width="0.25" text-anchor="end">Day7</text>
<text transform="translate(242.79,494.00) rotate(-52)" font-size="8.2" font-weight="bold" fill="#000" stroke="#000" stroke-width="0.25" text-anchor="end">Day0</text>
<text transform="translate(294.52,494.00) rotate(-52)" font-size="8.2" font-weight="bold" fill="#000" stroke="#000" stroke-width="0.25" text-anchor="end">Day2</text>
<text transform="translate(349.85,494.00) rotate(-52)" font-size="8.2" font-weight="bold" fill="#000" stroke="#000" stroke-width="0.25" text-anchor="end">Day7</text>
<text transform="translate(409.28,494.00) rotate(-52)" font-size="8.2" font-weight="bold" fill="#000" stroke="#000" stroke-width="0.25" text-anchor="end">Day0</text>
<text transform="translate(460.91,494.00) rotate(-52)" font-size="8.2" font-weight="bold" fill="#000" stroke="#000" stroke-width="0.25" text-anchor="end">Day2</text>
<text transform="translate(516.94,494.00) rotate(-52)" font-size="8.2" font-weight="bold" fill="#000" stroke="#000" stroke-width="0.25" text-anchor="end">Day7</text>
<path d="M44.80,323.30 L44.80,321.30 Q44.80,320.50 45.60,320.50 L197.20,320.50 Q198.00,320.50 198.00,321.30 L198.00,323.30" fill="none" stroke="#111" stroke-width="1.2"/>
<line x1="121.00" y1="320.50" x2="121.00" y2="318.30" stroke="#111" stroke-width="1.0"/>
<path d="M203.30,324.30 L203.30,322.30 Q203.30,321.50 204.10,321.50 L368.70,321.50 Q369.50,321.50 369.50,322.30 L369.50,324.30" fill="none" stroke="#111" stroke-width="1.2"/>
<line x1="286.40" y1="321.50" x2="286.40" y2="319.30" stroke="#111" stroke-width="1.0"/>
<path d="M373.50,324.30 L373.50,322.30 Q373.50,321.50 374.30,321.50 L537.90,321.50 Q538.70,321.50 538.70,322.30 L538.70,324.30" fill="none" stroke="#111" stroke-width="1.2"/>
<line x1="456.00" y1="321.50" x2="456.00" y2="319.30" stroke="#111" stroke-width="1.0"/>
<text x="120.25" y="315.00" font-size="10.75" font-weight="bold" fill="#000" stroke="#000" stroke-width="0.32" text-anchor="middle" textLength="16.05" lengthAdjust="spacingAndGlyphs">1:1</text>
<text x="287.45" y="316.10" font-size="11.17" font-weight="bold" fill="#000" stroke="#000" stroke-width="0.34" text-anchor="middle" textLength="16.08" lengthAdjust="spacingAndGlyphs">5:1</text>
<text x="452.85" y="315.30" font-size="10.61" font-weight="bold" fill="#000" stroke="#000" stroke-width="0.32" text-anchor="middle" textLength="22.44" lengthAdjust="spacingAndGlyphs">10:1</text>
<text x="356.6" y="331.5" font-size="4.5" fill="#777" text-anchor="middle">*</text>
<line x1="350.90" y1="333.80" x2="364.30" y2="333.80" stroke="#C8C8C8" stroke-width="0.6"/>
<text x="522.5" y="339.8" font-size="4.5" fill="#777" text-anchor="middle">*</text>
<line x1="516.20" y1="342.80" x2="528.70" y2="342.80" stroke="#C8C8C8" stroke-width="0.6"/>
<rect x="88.10" y="513.20" width="3.70" height="3.80" fill="#4472C4" stroke="none" stroke-width="1"/>
<text x="128.35" y="517.90" font-size="9.08" font-weight="bold" fill="#000" stroke="#000" stroke-width="0.27" text-anchor="middle" textLength="67.74" lengthAdjust="spacingAndGlyphs">CAR19BB PHA</text>
<rect x="194.60" y="513.20" width="3.70" height="3.80" fill="#ED7D31" stroke="none" stroke-width="1"/>
<text x="237.85" y="517.90" font-size="9.08" font-weight="bold" fill="#000" stroke="#000" stroke-width="0.27" text-anchor="middle" textLength="72.74" lengthAdjust="spacingAndGlyphs">CAR19BB A3/28</text>
<rect x="306.70" y="513.20" width="3.70" height="3.80" fill="#A5A5A5" stroke="none" stroke-width="1"/>
<text x="345.70" y="517.90" font-size="9.08" font-weight="bold" fill="#000" stroke="#000" stroke-width="0.27" text-anchor="middle" textLength="64.84" lengthAdjust="spacingAndGlyphs">CAR1928 PHA</text>
<rect x="410.50" y="513.20" width="3.70" height="3.80" fill="#548235" stroke="none" stroke-width="1"/>
<text x="452.35" y="517.90" font-size="9.08" font-weight="bold" fill="#000" stroke="#000" stroke-width="0.27" text-anchor="middle" textLength="69.74" lengthAdjust="spacingAndGlyphs">CAR1928 A3/28</text>
</svg>
</body></html>
